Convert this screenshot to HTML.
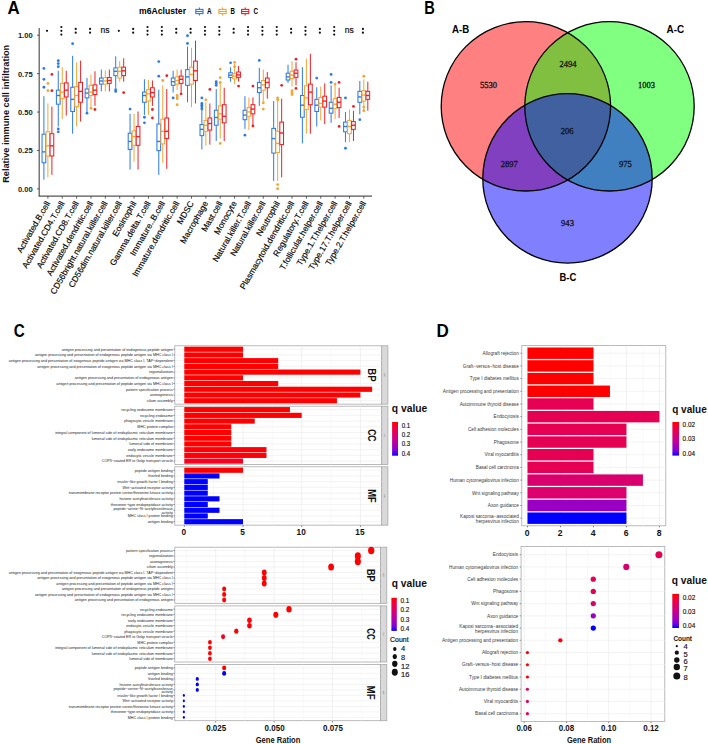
<!DOCTYPE html>
<html><head><meta charset="utf-8"><style>
html,body{margin:0;padding:0;background:#fff;width:708px;height:744px;overflow:hidden}
svg{display:block}
</style></head><body>
<svg width="708" height="744" viewBox="0 0 708 744" font-family='"Liberation Sans", sans-serif'>
<rect width="708" height="744" fill="#fff"/>
<text x="7.60" y="13.80" font-size="17.8" text-anchor="start" font-weight="bold" fill="#000" font-family='"Liberation Sans", sans-serif' textLength="12.2" lengthAdjust="spacingAndGlyphs">A</text>
<text x="139.00" y="14.40" font-size="9.5" text-anchor="start" font-weight="bold" fill="#000" font-family='"Liberation Sans", sans-serif' textLength="47" lengthAdjust="spacingAndGlyphs">m6Acluster</text>
<line x1="199.40" y1="7.40" x2="199.40" y2="15.60" stroke="#2b7ae8" stroke-width="1.1" />
<rect x="195.80" y="9.40" width="7.20" height="4.20" fill="#fff" stroke="#2b7ae8" stroke-width="1.1" />
<line x1="195.80" y1="11.50" x2="203.00" y2="11.50" stroke="#2b7ae8" stroke-width="1.1" />
<text x="207.00" y="14.00" font-size="9.5" text-anchor="start" font-weight="bold" fill="#000" font-family='"Liberation Sans", sans-serif' textLength="4.6" lengthAdjust="spacingAndGlyphs">A</text>
<line x1="222.50" y1="7.40" x2="222.50" y2="15.60" stroke="#f5a433" stroke-width="1.1" />
<rect x="218.90" y="9.40" width="7.20" height="4.20" fill="#fff" stroke="#f5a433" stroke-width="1.1" />
<line x1="218.90" y1="11.50" x2="226.10" y2="11.50" stroke="#f5a433" stroke-width="1.1" />
<text x="230.40" y="14.00" font-size="9.5" text-anchor="start" font-weight="bold" fill="#000" font-family='"Liberation Sans", sans-serif' textLength="4.4" lengthAdjust="spacingAndGlyphs">B</text>
<line x1="245.20" y1="7.40" x2="245.20" y2="15.60" stroke="#ea2028" stroke-width="1.1" />
<rect x="241.60" y="9.40" width="7.20" height="4.20" fill="#fff" stroke="#ea2028" stroke-width="1.1" />
<line x1="241.60" y1="11.50" x2="248.80" y2="11.50" stroke="#ea2028" stroke-width="1.1" />
<text x="253.50" y="14.00" font-size="9.5" text-anchor="start" font-weight="bold" fill="#000" font-family='"Liberation Sans", sans-serif' textLength="4.6" lengthAdjust="spacingAndGlyphs">C</text>
<line x1="39.20" y1="28.00" x2="39.20" y2="196.10" stroke="#555" stroke-width="1.2" />
<line x1="38.60" y1="196.10" x2="372.00" y2="196.10" stroke="#555" stroke-width="1.2" />
<line x1="37.00" y1="188.90" x2="39.20" y2="188.90" stroke="#4a4a4a" stroke-width="0.9" />
<text x="32.70" y="191.80" font-size="7.9" text-anchor="end" font-weight="bold" fill="#1a1a1a" font-family='"Liberation Sans", sans-serif' textLength="14.8" lengthAdjust="spacingAndGlyphs">0.00</text>
<line x1="37.00" y1="150.48" x2="39.20" y2="150.48" stroke="#4a4a4a" stroke-width="0.9" />
<text x="32.70" y="153.38" font-size="7.9" text-anchor="end" font-weight="bold" fill="#1a1a1a" font-family='"Liberation Sans", sans-serif' textLength="14.8" lengthAdjust="spacingAndGlyphs">0.25</text>
<line x1="37.00" y1="112.05" x2="39.20" y2="112.05" stroke="#4a4a4a" stroke-width="0.9" />
<text x="32.70" y="114.95" font-size="7.9" text-anchor="end" font-weight="bold" fill="#1a1a1a" font-family='"Liberation Sans", sans-serif' textLength="14.8" lengthAdjust="spacingAndGlyphs">0.50</text>
<line x1="37.00" y1="73.63" x2="39.20" y2="73.63" stroke="#4a4a4a" stroke-width="0.9" />
<text x="32.70" y="76.53" font-size="7.9" text-anchor="end" font-weight="bold" fill="#1a1a1a" font-family='"Liberation Sans", sans-serif' textLength="14.8" lengthAdjust="spacingAndGlyphs">0.75</text>
<line x1="37.00" y1="35.20" x2="39.20" y2="35.20" stroke="#4a4a4a" stroke-width="0.9" />
<text x="32.70" y="38.10" font-size="7.9" text-anchor="end" font-weight="bold" fill="#1a1a1a" font-family='"Liberation Sans", sans-serif' textLength="14.8" lengthAdjust="spacingAndGlyphs">1.00</text>
<text x="9.00" y="113.80" font-size="9.3" text-anchor="middle" font-weight="bold" fill="#111" font-family='"Liberation Sans", sans-serif' transform="rotate(-90 9.0 113.8)" textLength="138" lengthAdjust="spacingAndGlyphs">Relative immune cell infiltration</text>
<line x1="43.90" y1="96.22" x2="43.90" y2="134.20" stroke="#2b7ae8" stroke-width="1.0" />
<line x1="43.90" y1="162.75" x2="43.90" y2="179.69" stroke="#2b7ae8" stroke-width="1.0" />
<rect x="42.05" y="134.20" width="3.70" height="28.55" fill="#fff" stroke="#2b7ae8" stroke-width="1.05" />
<line x1="42.05" y1="151.87" x2="45.75" y2="151.87" stroke="#2b7ae8" stroke-width="1.4" />
<circle cx="43.90" cy="68.39" r="1.4" fill="#2b7ae8"/>
<circle cx="43.90" cy="79.28" r="1.4" fill="#2b7ae8"/>
<circle cx="43.90" cy="87.26" r="1.4" fill="#2b7ae8"/>
<line x1="47.90" y1="103.47" x2="47.90" y2="131.78" stroke="#f5a433" stroke-width="1.0" />
<line x1="47.90" y1="155.98" x2="47.90" y2="177.27" stroke="#f5a433" stroke-width="1.0" />
<rect x="46.05" y="131.78" width="3.70" height="24.20" fill="#fff" stroke="#f5a433" stroke-width="1.05" />
<line x1="46.05" y1="145.82" x2="49.75" y2="145.82" stroke="#f5a433" stroke-width="1.4" />
<circle cx="47.90" cy="83.39" r="1.4" fill="#f5a433"/>
<circle cx="47.90" cy="90.65" r="1.4" fill="#f5a433"/>
<line x1="51.90" y1="106.62" x2="51.90" y2="133.72" stroke="#ea2028" stroke-width="1.0" />
<line x1="51.90" y1="155.98" x2="51.90" y2="174.85" stroke="#ea2028" stroke-width="1.0" />
<rect x="50.05" y="133.72" width="3.70" height="22.26" fill="#fff" stroke="#ea2028" stroke-width="1.05" />
<line x1="50.05" y1="145.82" x2="53.75" y2="145.82" stroke="#ea2028" stroke-width="1.4" />
<circle cx="51.90" cy="74.44" r="1.4" fill="#ea2028"/>
<circle cx="51.90" cy="90.65" r="1.4" fill="#ea2028"/>
<line x1="47.90" y1="196.10" x2="47.90" y2="198.60" stroke="#4a4a4a" stroke-width="0.9" />
<text x="45.70" y="200.50" font-size="8.5" text-anchor="end" fill="#000" stroke="#000" stroke-width="0.15" font-family='"Liberation Sans", sans-serif' transform="rotate(-60 45.70 200.50)" dy="5.5">Activated.B.cell</text>
<circle cx="47.00" cy="30.80" r="1.1" fill="#111"/>
<line x1="58.26" y1="70.81" x2="58.26" y2="90.17" stroke="#2b7ae8" stroke-width="1.0" />
<line x1="58.26" y1="104.20" x2="58.26" y2="126.46" stroke="#2b7ae8" stroke-width="1.0" />
<rect x="56.41" y="90.17" width="3.70" height="14.03" fill="#fff" stroke="#2b7ae8" stroke-width="1.05" />
<line x1="56.41" y1="95.49" x2="60.11" y2="95.49" stroke="#2b7ae8" stroke-width="1.4" />
<circle cx="58.26" cy="60.65" r="1.4" fill="#2b7ae8"/>
<circle cx="58.26" cy="63.55" r="1.4" fill="#2b7ae8"/>
<circle cx="58.26" cy="66.70" r="1.4" fill="#2b7ae8"/>
<circle cx="58.26" cy="128.88" r="1.4" fill="#2b7ae8"/>
<circle cx="58.26" cy="131.78" r="1.4" fill="#2b7ae8"/>
<line x1="62.26" y1="67.18" x2="62.26" y2="83.39" stroke="#f5a433" stroke-width="1.0" />
<line x1="62.26" y1="98.64" x2="62.26" y2="119.20" stroke="#f5a433" stroke-width="1.0" />
<rect x="60.41" y="83.39" width="3.70" height="15.24" fill="#fff" stroke="#f5a433" stroke-width="1.05" />
<line x1="60.41" y1="92.10" x2="64.11" y2="92.10" stroke="#f5a433" stroke-width="1.4" />
<line x1="66.26" y1="70.81" x2="66.26" y2="82.91" stroke="#ea2028" stroke-width="1.0" />
<line x1="66.26" y1="96.94" x2="66.26" y2="115.57" stroke="#ea2028" stroke-width="1.0" />
<rect x="64.41" y="82.91" width="3.70" height="14.03" fill="#fff" stroke="#ea2028" stroke-width="1.05" />
<line x1="64.41" y1="90.17" x2="68.11" y2="90.17" stroke="#ea2028" stroke-width="1.4" />
<line x1="62.26" y1="196.10" x2="62.26" y2="198.60" stroke="#4a4a4a" stroke-width="0.9" />
<text x="60.06" y="200.50" font-size="8.5" text-anchor="end" fill="#000" stroke="#000" stroke-width="0.15" font-family='"Liberation Sans", sans-serif' transform="rotate(-60 60.06 200.50)" dy="5.5">Activated.CD4.T.cell</text>
<circle cx="61.36" cy="27.00" r="1.1" fill="#111"/>
<circle cx="61.36" cy="30.80" r="1.1" fill="#111"/>
<circle cx="61.36" cy="34.60" r="1.1" fill="#111"/>
<line x1="72.62" y1="55.81" x2="72.62" y2="87.26" stroke="#2b7ae8" stroke-width="1.0" />
<line x1="72.62" y1="111.46" x2="72.62" y2="133.72" stroke="#2b7ae8" stroke-width="1.0" />
<rect x="70.77" y="87.26" width="3.70" height="24.20" fill="#fff" stroke="#2b7ae8" stroke-width="1.05" />
<line x1="70.77" y1="99.36" x2="74.47" y2="99.36" stroke="#2b7ae8" stroke-width="1.4" />
<circle cx="72.62" cy="43.71" r="1.4" fill="#2b7ae8"/>
<line x1="76.62" y1="62.34" x2="76.62" y2="86.54" stroke="#f5a433" stroke-width="1.0" />
<line x1="76.62" y1="106.62" x2="76.62" y2="126.46" stroke="#f5a433" stroke-width="1.0" />
<rect x="74.77" y="86.54" width="3.70" height="20.08" fill="#fff" stroke="#f5a433" stroke-width="1.05" />
<line x1="74.77" y1="95.49" x2="78.47" y2="95.49" stroke="#f5a433" stroke-width="1.4" />
<line x1="80.62" y1="60.65" x2="80.62" y2="82.42" stroke="#ea2028" stroke-width="1.0" />
<line x1="80.62" y1="102.26" x2="80.62" y2="121.62" stroke="#ea2028" stroke-width="1.0" />
<rect x="78.77" y="82.42" width="3.70" height="19.84" fill="#fff" stroke="#ea2028" stroke-width="1.05" />
<line x1="78.77" y1="91.38" x2="82.47" y2="91.38" stroke="#ea2028" stroke-width="1.4" />
<line x1="76.62" y1="196.10" x2="76.62" y2="198.60" stroke="#4a4a4a" stroke-width="0.9" />
<text x="74.42" y="200.50" font-size="8.5" text-anchor="end" fill="#000" stroke="#000" stroke-width="0.15" font-family='"Liberation Sans", sans-serif' transform="rotate(-60 74.42 200.50)" dy="5.5">Activated.CD8.T.cell</text>
<circle cx="75.72" cy="28.90" r="1.1" fill="#111"/>
<circle cx="75.72" cy="32.70" r="1.1" fill="#111"/>
<line x1="86.98" y1="78.07" x2="86.98" y2="88.96" stroke="#2b7ae8" stroke-width="1.0" />
<line x1="86.98" y1="97.91" x2="86.98" y2="111.94" stroke="#2b7ae8" stroke-width="1.0" />
<rect x="85.13" y="88.96" width="3.70" height="8.95" fill="#fff" stroke="#2b7ae8" stroke-width="1.05" />
<line x1="85.13" y1="93.07" x2="88.83" y2="93.07" stroke="#2b7ae8" stroke-width="1.4" />
<circle cx="86.98" cy="113.15" r="1.4" fill="#2b7ae8"/>
<line x1="90.98" y1="74.44" x2="90.98" y2="85.33" stroke="#f5a433" stroke-width="1.0" />
<line x1="90.98" y1="95.49" x2="90.98" y2="107.59" stroke="#f5a433" stroke-width="1.0" />
<rect x="89.13" y="85.33" width="3.70" height="10.16" fill="#fff" stroke="#f5a433" stroke-width="1.05" />
<line x1="89.13" y1="92.10" x2="92.83" y2="92.10" stroke="#f5a433" stroke-width="1.4" />
<circle cx="90.98" cy="108.31" r="1.4" fill="#f5a433"/>
<line x1="94.98" y1="71.29" x2="94.98" y2="84.84" stroke="#ea2028" stroke-width="1.0" />
<line x1="94.98" y1="94.52" x2="94.98" y2="105.89" stroke="#ea2028" stroke-width="1.0" />
<rect x="93.13" y="84.84" width="3.70" height="9.68" fill="#fff" stroke="#ea2028" stroke-width="1.05" />
<line x1="93.13" y1="90.17" x2="96.83" y2="90.17" stroke="#ea2028" stroke-width="1.4" />
<circle cx="94.98" cy="109.52" r="1.4" fill="#ea2028"/>
<line x1="90.98" y1="196.10" x2="90.98" y2="198.60" stroke="#4a4a4a" stroke-width="0.9" />
<text x="88.78" y="200.50" font-size="8.5" text-anchor="end" fill="#000" stroke="#000" stroke-width="0.15" font-family='"Liberation Sans", sans-serif' transform="rotate(-60 88.78 200.50)" dy="5.5">Activated.dendritic.cell</text>
<circle cx="90.08" cy="28.90" r="1.1" fill="#111"/>
<circle cx="90.08" cy="32.70" r="1.1" fill="#111"/>
<line x1="101.34" y1="69.60" x2="101.34" y2="78.07" stroke="#2b7ae8" stroke-width="1.0" />
<line x1="101.34" y1="84.12" x2="101.34" y2="91.38" stroke="#2b7ae8" stroke-width="1.0" />
<rect x="99.49" y="78.07" width="3.70" height="6.05" fill="#fff" stroke="#2b7ae8" stroke-width="1.05" />
<line x1="99.49" y1="80.97" x2="103.19" y2="80.97" stroke="#2b7ae8" stroke-width="1.4" />
<line x1="105.34" y1="70.33" x2="105.34" y2="77.59" stroke="#f5a433" stroke-width="1.0" />
<line x1="105.34" y1="84.12" x2="105.34" y2="91.38" stroke="#f5a433" stroke-width="1.0" />
<rect x="103.49" y="77.59" width="3.70" height="6.53" fill="#fff" stroke="#f5a433" stroke-width="1.05" />
<line x1="103.49" y1="80.97" x2="107.19" y2="80.97" stroke="#f5a433" stroke-width="1.4" />
<line x1="109.34" y1="69.60" x2="109.34" y2="77.59" stroke="#ea2028" stroke-width="1.0" />
<line x1="109.34" y1="83.39" x2="109.34" y2="91.38" stroke="#ea2028" stroke-width="1.0" />
<rect x="107.49" y="77.59" width="3.70" height="5.81" fill="#fff" stroke="#ea2028" stroke-width="1.05" />
<line x1="107.49" y1="80.49" x2="111.19" y2="80.49" stroke="#ea2028" stroke-width="1.4" />
<line x1="105.34" y1="196.10" x2="105.34" y2="198.60" stroke="#4a4a4a" stroke-width="0.9" />
<text x="103.14" y="200.50" font-size="8.5" text-anchor="end" fill="#000" stroke="#000" stroke-width="0.15" font-family='"Liberation Sans", sans-serif' transform="rotate(-60 103.14 200.50)" dy="5.5">CD56bright.natural.killer.cell</text>
<text x="105.04" y="32.70" font-size="8.5" text-anchor="middle" font-weight="normal" fill="#111" font-family='"Liberation Sans", sans-serif' stroke="#111" stroke-width="0.2">ns</text>
<line x1="115.70" y1="56.29" x2="115.70" y2="67.91" stroke="#2b7ae8" stroke-width="1.0" />
<line x1="115.70" y1="75.65" x2="115.70" y2="87.75" stroke="#2b7ae8" stroke-width="1.0" />
<rect x="113.85" y="67.91" width="3.70" height="7.74" fill="#fff" stroke="#2b7ae8" stroke-width="1.05" />
<line x1="113.85" y1="71.29" x2="117.55" y2="71.29" stroke="#2b7ae8" stroke-width="1.4" />
<circle cx="115.70" cy="89.68" r="1.4" fill="#2b7ae8"/>
<circle cx="115.70" cy="91.38" r="1.4" fill="#2b7ae8"/>
<line x1="119.70" y1="61.13" x2="119.70" y2="67.18" stroke="#f5a433" stroke-width="1.0" />
<line x1="119.70" y1="78.07" x2="119.70" y2="81.70" stroke="#f5a433" stroke-width="1.0" />
<rect x="117.85" y="67.18" width="3.70" height="10.89" fill="#fff" stroke="#f5a433" stroke-width="1.05" />
<line x1="117.85" y1="71.29" x2="121.55" y2="71.29" stroke="#f5a433" stroke-width="1.4" />
<line x1="123.70" y1="58.23" x2="123.70" y2="67.18" stroke="#ea2028" stroke-width="1.0" />
<line x1="123.70" y1="75.65" x2="123.70" y2="81.70" stroke="#ea2028" stroke-width="1.0" />
<rect x="121.85" y="67.18" width="3.70" height="8.47" fill="#fff" stroke="#ea2028" stroke-width="1.05" />
<line x1="121.85" y1="70.81" x2="125.55" y2="70.81" stroke="#ea2028" stroke-width="1.4" />
<circle cx="123.70" cy="92.59" r="1.4" fill="#ea2028"/>
<line x1="119.70" y1="196.10" x2="119.70" y2="198.60" stroke="#4a4a4a" stroke-width="0.9" />
<text x="117.50" y="200.50" font-size="8.5" text-anchor="end" fill="#000" stroke="#000" stroke-width="0.15" font-family='"Liberation Sans", sans-serif' transform="rotate(-60 117.50 200.50)" dy="5.5">CD56dim.natural.killer.cell</text>
<circle cx="118.80" cy="30.80" r="1.1" fill="#111"/>
<line x1="130.06" y1="113.88" x2="130.06" y2="133.23" stroke="#2b7ae8" stroke-width="1.0" />
<line x1="130.06" y1="149.45" x2="130.06" y2="169.53" stroke="#2b7ae8" stroke-width="1.0" />
<rect x="128.21" y="133.23" width="3.70" height="16.21" fill="#fff" stroke="#2b7ae8" stroke-width="1.05" />
<line x1="128.21" y1="141.46" x2="131.91" y2="141.46" stroke="#2b7ae8" stroke-width="1.4" />
<circle cx="130.06" cy="109.04" r="1.4" fill="#2b7ae8"/>
<line x1="134.06" y1="113.88" x2="134.06" y2="130.82" stroke="#f5a433" stroke-width="1.0" />
<line x1="134.06" y1="145.33" x2="134.06" y2="161.54" stroke="#f5a433" stroke-width="1.0" />
<rect x="132.21" y="130.82" width="3.70" height="14.52" fill="#fff" stroke="#f5a433" stroke-width="1.05" />
<line x1="132.21" y1="136.62" x2="135.91" y2="136.62" stroke="#f5a433" stroke-width="1.4" />
<line x1="138.06" y1="111.46" x2="138.06" y2="126.46" stroke="#ea2028" stroke-width="1.0" />
<line x1="138.06" y1="145.33" x2="138.06" y2="169.53" stroke="#ea2028" stroke-width="1.0" />
<rect x="136.21" y="126.46" width="3.70" height="18.87" fill="#fff" stroke="#ea2028" stroke-width="1.05" />
<line x1="136.21" y1="136.62" x2="139.91" y2="136.62" stroke="#ea2028" stroke-width="1.4" />
<line x1="134.06" y1="196.10" x2="134.06" y2="198.60" stroke="#4a4a4a" stroke-width="0.9" />
<text x="131.86" y="200.50" font-size="8.5" text-anchor="end" fill="#000" stroke="#000" stroke-width="0.15" font-family='"Liberation Sans", sans-serif' transform="rotate(-60 131.86 200.50)" dy="5.5">Eosinophil</text>
<circle cx="133.16" cy="28.90" r="1.1" fill="#111"/>
<circle cx="133.16" cy="32.70" r="1.1" fill="#111"/>
<line x1="144.42" y1="79.28" x2="144.42" y2="92.10" stroke="#2b7ae8" stroke-width="1.0" />
<line x1="144.42" y1="102.26" x2="144.42" y2="114.85" stroke="#2b7ae8" stroke-width="1.0" />
<rect x="142.57" y="92.10" width="3.70" height="10.16" fill="#fff" stroke="#2b7ae8" stroke-width="1.05" />
<line x1="142.57" y1="95.49" x2="146.27" y2="95.49" stroke="#2b7ae8" stroke-width="1.4" />
<circle cx="144.42" cy="117.27" r="1.4" fill="#2b7ae8"/>
<circle cx="144.42" cy="122.83" r="1.4" fill="#2b7ae8"/>
<line x1="148.42" y1="80.00" x2="148.42" y2="89.68" stroke="#f5a433" stroke-width="1.0" />
<line x1="148.42" y1="101.05" x2="148.42" y2="114.85" stroke="#f5a433" stroke-width="1.0" />
<rect x="146.57" y="89.68" width="3.70" height="11.37" fill="#fff" stroke="#f5a433" stroke-width="1.05" />
<line x1="146.57" y1="93.80" x2="150.27" y2="93.80" stroke="#f5a433" stroke-width="1.4" />
<line x1="152.42" y1="80.49" x2="152.42" y2="87.75" stroke="#ea2028" stroke-width="1.0" />
<line x1="152.42" y1="96.94" x2="152.42" y2="105.89" stroke="#ea2028" stroke-width="1.0" />
<rect x="150.57" y="87.75" width="3.70" height="9.19" fill="#fff" stroke="#ea2028" stroke-width="1.05" />
<line x1="150.57" y1="92.59" x2="154.27" y2="92.59" stroke="#ea2028" stroke-width="1.4" />
<circle cx="152.42" cy="109.52" r="1.4" fill="#ea2028"/>
<circle cx="152.42" cy="117.99" r="1.4" fill="#ea2028"/>
<line x1="148.42" y1="196.10" x2="148.42" y2="198.60" stroke="#4a4a4a" stroke-width="0.9" />
<text x="146.22" y="200.50" font-size="8.5" text-anchor="end" fill="#000" stroke="#000" stroke-width="0.15" font-family='"Liberation Sans", sans-serif' transform="rotate(-60 146.22 200.50)" dy="5.5">Gamma.delta.T.cell</text>
<circle cx="147.52" cy="27.00" r="1.1" fill="#111"/>
<circle cx="147.52" cy="30.80" r="1.1" fill="#111"/>
<circle cx="147.52" cy="34.60" r="1.1" fill="#111"/>
<line x1="158.78" y1="89.68" x2="158.78" y2="124.04" stroke="#2b7ae8" stroke-width="1.0" />
<line x1="158.78" y1="150.66" x2="158.78" y2="174.85" stroke="#2b7ae8" stroke-width="1.0" />
<rect x="156.93" y="124.04" width="3.70" height="26.62" fill="#fff" stroke="#2b7ae8" stroke-width="1.05" />
<line x1="156.93" y1="141.46" x2="160.63" y2="141.46" stroke="#2b7ae8" stroke-width="1.4" />
<circle cx="158.78" cy="61.62" r="1.4" fill="#2b7ae8"/>
<circle cx="158.78" cy="76.13" r="1.4" fill="#2b7ae8"/>
<line x1="162.78" y1="85.33" x2="162.78" y2="119.20" stroke="#f5a433" stroke-width="1.0" />
<line x1="162.78" y1="143.88" x2="162.78" y2="162.75" stroke="#f5a433" stroke-width="1.0" />
<rect x="160.93" y="119.20" width="3.70" height="24.68" fill="#fff" stroke="#f5a433" stroke-width="1.05" />
<line x1="160.93" y1="131.30" x2="164.63" y2="131.30" stroke="#f5a433" stroke-width="1.4" />
<circle cx="162.78" cy="80.49" r="1.4" fill="#f5a433"/>
<line x1="166.78" y1="88.96" x2="166.78" y2="117.99" stroke="#ea2028" stroke-width="1.0" />
<line x1="166.78" y1="138.56" x2="166.78" y2="168.80" stroke="#ea2028" stroke-width="1.0" />
<rect x="164.93" y="117.99" width="3.70" height="20.57" fill="#fff" stroke="#ea2028" stroke-width="1.05" />
<line x1="164.93" y1="131.30" x2="168.63" y2="131.30" stroke="#ea2028" stroke-width="1.4" />
<circle cx="166.78" cy="75.65" r="1.4" fill="#ea2028"/>
<line x1="162.78" y1="196.10" x2="162.78" y2="198.60" stroke="#4a4a4a" stroke-width="0.9" />
<text x="160.58" y="200.50" font-size="8.5" text-anchor="end" fill="#000" stroke="#000" stroke-width="0.15" font-family='"Liberation Sans", sans-serif' transform="rotate(-60 160.58 200.50)" dy="5.5">Immature..B.cell</text>
<circle cx="161.88" cy="27.00" r="1.1" fill="#111"/>
<circle cx="161.88" cy="30.80" r="1.1" fill="#111"/>
<circle cx="161.88" cy="34.60" r="1.1" fill="#111"/>
<line x1="173.14" y1="70.81" x2="173.14" y2="78.07" stroke="#2b7ae8" stroke-width="1.0" />
<line x1="173.14" y1="85.33" x2="173.14" y2="92.59" stroke="#2b7ae8" stroke-width="1.0" />
<rect x="171.29" y="78.07" width="3.70" height="7.26" fill="#fff" stroke="#2b7ae8" stroke-width="1.05" />
<line x1="171.29" y1="81.70" x2="174.99" y2="81.70" stroke="#2b7ae8" stroke-width="1.4" />
<circle cx="173.14" cy="97.91" r="1.4" fill="#2b7ae8"/>
<line x1="177.14" y1="69.60" x2="177.14" y2="76.86" stroke="#f5a433" stroke-width="1.0" />
<line x1="177.14" y1="84.12" x2="177.14" y2="90.17" stroke="#f5a433" stroke-width="1.0" />
<rect x="175.29" y="76.86" width="3.70" height="7.26" fill="#fff" stroke="#f5a433" stroke-width="1.05" />
<line x1="175.29" y1="80.49" x2="178.99" y2="80.49" stroke="#f5a433" stroke-width="1.4" />
<circle cx="177.14" cy="95.49" r="1.4" fill="#f5a433"/>
<circle cx="177.14" cy="96.94" r="1.4" fill="#f5a433"/>
<circle cx="177.14" cy="98.64" r="1.4" fill="#f5a433"/>
<circle cx="177.14" cy="104.68" r="1.4" fill="#f5a433"/>
<line x1="181.14" y1="69.60" x2="181.14" y2="76.13" stroke="#ea2028" stroke-width="1.0" />
<line x1="181.14" y1="83.39" x2="181.14" y2="92.59" stroke="#ea2028" stroke-width="1.0" />
<rect x="179.29" y="76.13" width="3.70" height="7.26" fill="#fff" stroke="#ea2028" stroke-width="1.05" />
<line x1="179.29" y1="79.28" x2="182.99" y2="79.28" stroke="#ea2028" stroke-width="1.4" />
<circle cx="181.14" cy="93.80" r="1.4" fill="#ea2028"/>
<line x1="177.14" y1="196.10" x2="177.14" y2="198.60" stroke="#4a4a4a" stroke-width="0.9" />
<text x="174.94" y="200.50" font-size="8.5" text-anchor="end" fill="#000" stroke="#000" stroke-width="0.15" font-family='"Liberation Sans", sans-serif' transform="rotate(-60 174.94 200.50)" dy="5.5">Immature.dendritic.cell</text>
<circle cx="176.24" cy="28.90" r="1.1" fill="#111"/>
<circle cx="176.24" cy="32.70" r="1.1" fill="#111"/>
<line x1="187.50" y1="46.62" x2="187.50" y2="69.60" stroke="#2b7ae8" stroke-width="1.0" />
<line x1="187.50" y1="85.33" x2="187.50" y2="102.26" stroke="#2b7ae8" stroke-width="1.0" />
<rect x="185.65" y="69.60" width="3.70" height="15.73" fill="#fff" stroke="#2b7ae8" stroke-width="1.05" />
<line x1="185.65" y1="76.86" x2="189.35" y2="76.86" stroke="#2b7ae8" stroke-width="1.4" />
<circle cx="187.50" cy="35.73" r="1.4" fill="#2b7ae8"/>
<circle cx="187.50" cy="43.47" r="1.4" fill="#2b7ae8"/>
<line x1="191.50" y1="47.82" x2="191.50" y2="67.18" stroke="#f5a433" stroke-width="1.0" />
<line x1="191.50" y1="84.12" x2="191.50" y2="107.10" stroke="#f5a433" stroke-width="1.0" />
<rect x="189.65" y="67.18" width="3.70" height="16.94" fill="#fff" stroke="#f5a433" stroke-width="1.05" />
<line x1="189.65" y1="74.44" x2="193.35" y2="74.44" stroke="#f5a433" stroke-width="1.4" />
<line x1="195.50" y1="40.57" x2="195.50" y2="61.13" stroke="#ea2028" stroke-width="1.0" />
<line x1="195.50" y1="80.49" x2="195.50" y2="103.47" stroke="#ea2028" stroke-width="1.0" />
<rect x="193.65" y="61.13" width="3.70" height="19.36" fill="#fff" stroke="#ea2028" stroke-width="1.05" />
<line x1="193.65" y1="70.81" x2="197.35" y2="70.81" stroke="#ea2028" stroke-width="1.4" />
<line x1="191.50" y1="196.10" x2="191.50" y2="198.60" stroke="#4a4a4a" stroke-width="0.9" />
<text x="189.30" y="200.50" font-size="8.5" text-anchor="end" fill="#000" stroke="#000" stroke-width="0.15" font-family='"Liberation Sans", sans-serif' transform="rotate(-60 189.30 200.50)" dy="5.5">MDSC</text>
<circle cx="190.60" cy="28.90" r="1.1" fill="#111"/>
<circle cx="190.60" cy="32.70" r="1.1" fill="#111"/>
<line x1="201.86" y1="104.68" x2="201.86" y2="124.52" stroke="#2b7ae8" stroke-width="1.0" />
<line x1="201.86" y1="135.65" x2="201.86" y2="149.45" stroke="#2b7ae8" stroke-width="1.0" />
<rect x="200.01" y="124.52" width="3.70" height="11.13" fill="#fff" stroke="#2b7ae8" stroke-width="1.05" />
<line x1="200.01" y1="129.36" x2="203.71" y2="129.36" stroke="#2b7ae8" stroke-width="1.4" />
<circle cx="201.86" cy="97.91" r="1.4" fill="#2b7ae8"/>
<circle cx="201.86" cy="103.47" r="1.4" fill="#2b7ae8"/>
<circle cx="201.86" cy="105.17" r="1.4" fill="#2b7ae8"/>
<circle cx="201.86" cy="107.10" r="1.4" fill="#2b7ae8"/>
<circle cx="201.86" cy="109.04" r="1.4" fill="#2b7ae8"/>
<line x1="205.86" y1="102.26" x2="205.86" y2="120.41" stroke="#f5a433" stroke-width="1.0" />
<line x1="205.86" y1="131.30" x2="205.86" y2="145.82" stroke="#f5a433" stroke-width="1.0" />
<rect x="204.01" y="120.41" width="3.70" height="10.89" fill="#fff" stroke="#f5a433" stroke-width="1.05" />
<line x1="204.01" y1="125.25" x2="207.71" y2="125.25" stroke="#f5a433" stroke-width="1.4" />
<circle cx="205.86" cy="99.85" r="1.4" fill="#f5a433"/>
<line x1="209.86" y1="103.47" x2="209.86" y2="117.99" stroke="#ea2028" stroke-width="1.0" />
<line x1="209.86" y1="130.09" x2="209.86" y2="144.61" stroke="#ea2028" stroke-width="1.0" />
<rect x="208.01" y="117.99" width="3.70" height="12.10" fill="#fff" stroke="#ea2028" stroke-width="1.05" />
<line x1="208.01" y1="123.56" x2="211.71" y2="123.56" stroke="#ea2028" stroke-width="1.4" />
<circle cx="209.86" cy="89.44" r="1.4" fill="#ea2028"/>
<line x1="205.86" y1="196.10" x2="205.86" y2="198.60" stroke="#4a4a4a" stroke-width="0.9" />
<text x="203.66" y="200.50" font-size="8.5" text-anchor="end" fill="#000" stroke="#000" stroke-width="0.15" font-family='"Liberation Sans", sans-serif' transform="rotate(-60 203.66 200.50)" dy="5.5">Macrophage</text>
<circle cx="204.96" cy="27.00" r="1.1" fill="#111"/>
<circle cx="204.96" cy="30.80" r="1.1" fill="#111"/>
<circle cx="204.96" cy="34.60" r="1.1" fill="#111"/>
<line x1="216.22" y1="88.96" x2="216.22" y2="110.25" stroke="#2b7ae8" stroke-width="1.0" />
<line x1="216.22" y1="125.25" x2="216.22" y2="140.98" stroke="#2b7ae8" stroke-width="1.0" />
<rect x="214.37" y="110.25" width="3.70" height="15.00" fill="#fff" stroke="#2b7ae8" stroke-width="1.05" />
<line x1="214.37" y1="117.51" x2="218.07" y2="117.51" stroke="#2b7ae8" stroke-width="1.4" />
<circle cx="216.22" cy="81.70" r="1.4" fill="#2b7ae8"/>
<circle cx="216.22" cy="83.39" r="1.4" fill="#2b7ae8"/>
<circle cx="216.22" cy="85.33" r="1.4" fill="#2b7ae8"/>
<line x1="220.22" y1="82.91" x2="220.22" y2="105.89" stroke="#f5a433" stroke-width="1.0" />
<line x1="220.22" y1="119.20" x2="220.22" y2="138.56" stroke="#f5a433" stroke-width="1.0" />
<rect x="218.37" y="105.89" width="3.70" height="13.31" fill="#fff" stroke="#f5a433" stroke-width="1.05" />
<line x1="218.37" y1="113.88" x2="222.07" y2="113.88" stroke="#f5a433" stroke-width="1.4" />
<circle cx="220.22" cy="69.12" r="1.4" fill="#f5a433"/>
<circle cx="220.22" cy="77.59" r="1.4" fill="#f5a433"/>
<circle cx="220.22" cy="82.42" r="1.4" fill="#f5a433"/>
<circle cx="220.22" cy="143.40" r="1.4" fill="#f5a433"/>
<line x1="224.22" y1="87.75" x2="224.22" y2="104.68" stroke="#ea2028" stroke-width="1.0" />
<line x1="224.22" y1="122.83" x2="224.22" y2="140.98" stroke="#ea2028" stroke-width="1.0" />
<rect x="222.37" y="104.68" width="3.70" height="18.15" fill="#fff" stroke="#ea2028" stroke-width="1.05" />
<line x1="222.37" y1="116.30" x2="226.07" y2="116.30" stroke="#ea2028" stroke-width="1.4" />
<line x1="220.22" y1="196.10" x2="220.22" y2="198.60" stroke="#4a4a4a" stroke-width="0.9" />
<text x="218.02" y="200.50" font-size="8.5" text-anchor="end" fill="#000" stroke="#000" stroke-width="0.15" font-family='"Liberation Sans", sans-serif' transform="rotate(-60 218.02 200.50)" dy="5.5">Mast.cell</text>
<circle cx="219.32" cy="27.00" r="1.1" fill="#111"/>
<circle cx="219.32" cy="30.80" r="1.1" fill="#111"/>
<circle cx="219.32" cy="34.60" r="1.1" fill="#111"/>
<line x1="230.58" y1="67.18" x2="230.58" y2="72.75" stroke="#2b7ae8" stroke-width="1.0" />
<line x1="230.58" y1="77.59" x2="230.58" y2="81.70" stroke="#2b7ae8" stroke-width="1.0" />
<rect x="228.73" y="72.75" width="3.70" height="4.84" fill="#fff" stroke="#2b7ae8" stroke-width="1.05" />
<line x1="228.73" y1="75.17" x2="232.43" y2="75.17" stroke="#2b7ae8" stroke-width="1.4" />
<circle cx="230.58" cy="62.83" r="1.4" fill="#2b7ae8"/>
<line x1="234.58" y1="63.55" x2="234.58" y2="73.71" stroke="#f5a433" stroke-width="1.0" />
<line x1="234.58" y1="78.80" x2="234.58" y2="84.12" stroke="#f5a433" stroke-width="1.0" />
<rect x="232.73" y="73.71" width="3.70" height="5.08" fill="#fff" stroke="#f5a433" stroke-width="1.05" />
<line x1="232.73" y1="76.13" x2="236.43" y2="76.13" stroke="#f5a433" stroke-width="1.4" />
<circle cx="234.58" cy="62.34" r="1.4" fill="#f5a433"/>
<circle cx="234.58" cy="66.70" r="1.4" fill="#f5a433"/>
<line x1="238.58" y1="65.97" x2="238.58" y2="72.02" stroke="#ea2028" stroke-width="1.0" />
<line x1="238.58" y1="77.34" x2="238.58" y2="81.70" stroke="#ea2028" stroke-width="1.0" />
<rect x="236.73" y="72.02" width="3.70" height="5.32" fill="#fff" stroke="#ea2028" stroke-width="1.05" />
<line x1="236.73" y1="74.92" x2="240.43" y2="74.92" stroke="#ea2028" stroke-width="1.4" />
<circle cx="238.58" cy="86.05" r="1.4" fill="#ea2028"/>
<line x1="234.58" y1="196.10" x2="234.58" y2="198.60" stroke="#4a4a4a" stroke-width="0.9" />
<text x="232.38" y="200.50" font-size="8.5" text-anchor="end" fill="#000" stroke="#000" stroke-width="0.15" font-family='"Liberation Sans", sans-serif' transform="rotate(-60 232.38 200.50)" dy="5.5">Monocyte</text>
<circle cx="233.68" cy="28.90" r="1.1" fill="#111"/>
<circle cx="233.68" cy="32.70" r="1.1" fill="#111"/>
<line x1="244.94" y1="96.22" x2="244.94" y2="110.25" stroke="#2b7ae8" stroke-width="1.0" />
<line x1="244.94" y1="119.69" x2="244.94" y2="128.88" stroke="#2b7ae8" stroke-width="1.0" />
<rect x="243.09" y="110.25" width="3.70" height="9.44" fill="#fff" stroke="#2b7ae8" stroke-width="1.05" />
<line x1="243.09" y1="115.09" x2="246.79" y2="115.09" stroke="#2b7ae8" stroke-width="1.4" />
<circle cx="244.94" cy="135.17" r="1.4" fill="#2b7ae8"/>
<line x1="248.94" y1="97.43" x2="248.94" y2="107.59" stroke="#f5a433" stroke-width="1.0" />
<line x1="248.94" y1="116.30" x2="248.94" y2="130.09" stroke="#f5a433" stroke-width="1.0" />
<rect x="247.09" y="107.59" width="3.70" height="8.71" fill="#fff" stroke="#f5a433" stroke-width="1.05" />
<line x1="247.09" y1="111.94" x2="250.79" y2="111.94" stroke="#f5a433" stroke-width="1.4" />
<line x1="252.94" y1="97.43" x2="252.94" y2="104.68" stroke="#ea2028" stroke-width="1.0" />
<line x1="252.94" y1="113.88" x2="252.94" y2="126.46" stroke="#ea2028" stroke-width="1.0" />
<rect x="251.09" y="104.68" width="3.70" height="9.19" fill="#fff" stroke="#ea2028" stroke-width="1.05" />
<line x1="251.09" y1="109.04" x2="254.79" y2="109.04" stroke="#ea2028" stroke-width="1.4" />
<circle cx="252.94" cy="86.05" r="1.4" fill="#ea2028"/>
<circle cx="252.94" cy="125.98" r="1.4" fill="#ea2028"/>
<line x1="248.94" y1="196.10" x2="248.94" y2="198.60" stroke="#4a4a4a" stroke-width="0.9" />
<text x="246.74" y="200.50" font-size="8.5" text-anchor="end" fill="#000" stroke="#000" stroke-width="0.15" font-family='"Liberation Sans", sans-serif' transform="rotate(-60 246.74 200.50)" dy="5.5">Natural.killer.T.cell</text>
<circle cx="248.04" cy="27.00" r="1.1" fill="#111"/>
<circle cx="248.04" cy="30.80" r="1.1" fill="#111"/>
<circle cx="248.04" cy="34.60" r="1.1" fill="#111"/>
<line x1="259.30" y1="67.91" x2="259.30" y2="82.42" stroke="#2b7ae8" stroke-width="1.0" />
<line x1="259.30" y1="92.59" x2="259.30" y2="105.89" stroke="#2b7ae8" stroke-width="1.0" />
<rect x="257.45" y="82.42" width="3.70" height="10.16" fill="#fff" stroke="#2b7ae8" stroke-width="1.05" />
<line x1="257.45" y1="87.75" x2="261.15" y2="87.75" stroke="#2b7ae8" stroke-width="1.4" />
<circle cx="259.30" cy="60.41" r="1.4" fill="#2b7ae8"/>
<line x1="263.30" y1="69.60" x2="263.30" y2="80.49" stroke="#f5a433" stroke-width="1.0" />
<line x1="263.30" y1="90.17" x2="263.30" y2="101.05" stroke="#f5a433" stroke-width="1.0" />
<rect x="261.45" y="80.49" width="3.70" height="9.68" fill="#fff" stroke="#f5a433" stroke-width="1.05" />
<line x1="261.45" y1="84.84" x2="265.15" y2="84.84" stroke="#f5a433" stroke-width="1.4" />
<circle cx="263.30" cy="102.75" r="1.4" fill="#f5a433"/>
<circle cx="263.30" cy="109.04" r="1.4" fill="#f5a433"/>
<line x1="267.30" y1="72.02" x2="267.30" y2="78.07" stroke="#ea2028" stroke-width="1.0" />
<line x1="267.30" y1="87.75" x2="267.30" y2="98.64" stroke="#ea2028" stroke-width="1.0" />
<rect x="265.45" y="78.07" width="3.70" height="9.68" fill="#fff" stroke="#ea2028" stroke-width="1.05" />
<line x1="265.45" y1="82.42" x2="269.15" y2="82.42" stroke="#ea2028" stroke-width="1.4" />
<line x1="263.30" y1="196.10" x2="263.30" y2="198.60" stroke="#4a4a4a" stroke-width="0.9" />
<text x="261.10" y="200.50" font-size="8.5" text-anchor="end" fill="#000" stroke="#000" stroke-width="0.15" font-family='"Liberation Sans", sans-serif' transform="rotate(-60 261.10 200.50)" dy="5.5">Natural.killer.cell</text>
<circle cx="262.40" cy="27.00" r="1.1" fill="#111"/>
<circle cx="262.40" cy="30.80" r="1.1" fill="#111"/>
<circle cx="262.40" cy="34.60" r="1.1" fill="#111"/>
<line x1="273.66" y1="101.05" x2="273.66" y2="128.40" stroke="#2b7ae8" stroke-width="1.0" />
<line x1="273.66" y1="153.08" x2="273.66" y2="180.90" stroke="#2b7ae8" stroke-width="1.0" />
<rect x="271.81" y="128.40" width="3.70" height="24.68" fill="#fff" stroke="#2b7ae8" stroke-width="1.05" />
<line x1="271.81" y1="138.56" x2="275.51" y2="138.56" stroke="#2b7ae8" stroke-width="1.4" />
<line x1="277.66" y1="97.43" x2="277.66" y2="131.30" stroke="#f5a433" stroke-width="1.0" />
<line x1="277.66" y1="152.59" x2="277.66" y2="180.90" stroke="#f5a433" stroke-width="1.0" />
<rect x="275.81" y="131.30" width="3.70" height="21.29" fill="#fff" stroke="#f5a433" stroke-width="1.05" />
<line x1="275.81" y1="143.40" x2="279.51" y2="143.40" stroke="#f5a433" stroke-width="1.4" />
<circle cx="277.66" cy="97.91" r="1.4" fill="#f5a433"/>
<circle cx="277.66" cy="99.85" r="1.4" fill="#f5a433"/>
<circle cx="277.66" cy="184.53" r="1.4" fill="#f5a433"/>
<circle cx="277.66" cy="188.64" r="1.4" fill="#f5a433"/>
<line x1="281.66" y1="98.64" x2="281.66" y2="122.11" stroke="#ea2028" stroke-width="1.0" />
<line x1="281.66" y1="144.61" x2="281.66" y2="177.27" stroke="#ea2028" stroke-width="1.0" />
<rect x="279.81" y="122.11" width="3.70" height="22.50" fill="#fff" stroke="#ea2028" stroke-width="1.05" />
<line x1="279.81" y1="132.99" x2="283.51" y2="132.99" stroke="#ea2028" stroke-width="1.4" />
<circle cx="281.66" cy="85.33" r="1.4" fill="#ea2028"/>
<line x1="277.66" y1="196.10" x2="277.66" y2="198.60" stroke="#4a4a4a" stroke-width="0.9" />
<text x="275.46" y="200.50" font-size="8.5" text-anchor="end" fill="#000" stroke="#000" stroke-width="0.15" font-family='"Liberation Sans", sans-serif' transform="rotate(-60 275.46 200.50)" dy="5.5">Neutrophil</text>
<circle cx="276.76" cy="27.00" r="1.1" fill="#111"/>
<circle cx="276.76" cy="30.80" r="1.1" fill="#111"/>
<circle cx="276.76" cy="34.60" r="1.1" fill="#111"/>
<line x1="288.02" y1="64.76" x2="288.02" y2="73.23" stroke="#2b7ae8" stroke-width="1.0" />
<line x1="288.02" y1="80.00" x2="288.02" y2="82.91" stroke="#2b7ae8" stroke-width="1.0" />
<rect x="286.17" y="73.23" width="3.70" height="6.77" fill="#fff" stroke="#2b7ae8" stroke-width="1.05" />
<line x1="286.17" y1="76.86" x2="289.87" y2="76.86" stroke="#2b7ae8" stroke-width="1.4" />
<line x1="292.02" y1="61.13" x2="292.02" y2="71.29" stroke="#f5a433" stroke-width="1.0" />
<line x1="292.02" y1="78.55" x2="292.02" y2="86.54" stroke="#f5a433" stroke-width="1.0" />
<rect x="290.17" y="71.29" width="3.70" height="7.26" fill="#fff" stroke="#f5a433" stroke-width="1.05" />
<line x1="290.17" y1="75.17" x2="293.87" y2="75.17" stroke="#f5a433" stroke-width="1.4" />
<circle cx="292.02" cy="90.65" r="1.4" fill="#f5a433"/>
<circle cx="292.02" cy="92.59" r="1.4" fill="#f5a433"/>
<circle cx="292.02" cy="94.52" r="1.4" fill="#f5a433"/>
<line x1="296.02" y1="62.34" x2="296.02" y2="70.08" stroke="#ea2028" stroke-width="1.0" />
<line x1="296.02" y1="77.34" x2="296.02" y2="85.33" stroke="#ea2028" stroke-width="1.0" />
<rect x="294.17" y="70.08" width="3.70" height="7.26" fill="#fff" stroke="#ea2028" stroke-width="1.05" />
<line x1="294.17" y1="73.23" x2="297.87" y2="73.23" stroke="#ea2028" stroke-width="1.4" />
<circle cx="296.02" cy="59.20" r="1.4" fill="#ea2028"/>
<circle cx="296.02" cy="88.47" r="1.4" fill="#ea2028"/>
<line x1="292.02" y1="196.10" x2="292.02" y2="198.60" stroke="#4a4a4a" stroke-width="0.9" />
<text x="289.82" y="200.50" font-size="8.5" text-anchor="end" fill="#000" stroke="#000" stroke-width="0.15" font-family='"Liberation Sans", sans-serif' transform="rotate(-60 289.82 200.50)" dy="5.5">Plasmacytoid.dendritic.cell</text>
<circle cx="291.12" cy="28.90" r="1.1" fill="#111"/>
<circle cx="291.12" cy="32.70" r="1.1" fill="#111"/>
<line x1="302.38" y1="67.18" x2="302.38" y2="95.49" stroke="#2b7ae8" stroke-width="1.0" />
<line x1="302.38" y1="117.27" x2="302.38" y2="143.40" stroke="#2b7ae8" stroke-width="1.0" />
<rect x="300.53" y="95.49" width="3.70" height="21.78" fill="#fff" stroke="#2b7ae8" stroke-width="1.05" />
<line x1="300.53" y1="105.17" x2="304.23" y2="105.17" stroke="#2b7ae8" stroke-width="1.4" />
<line x1="306.38" y1="58.71" x2="306.38" y2="85.81" stroke="#f5a433" stroke-width="1.0" />
<line x1="306.38" y1="109.52" x2="306.38" y2="133.72" stroke="#f5a433" stroke-width="1.0" />
<rect x="304.53" y="85.81" width="3.70" height="23.71" fill="#fff" stroke="#f5a433" stroke-width="1.05" />
<line x1="304.53" y1="97.91" x2="308.23" y2="97.91" stroke="#f5a433" stroke-width="1.4" />
<line x1="310.38" y1="53.87" x2="310.38" y2="84.12" stroke="#ea2028" stroke-width="1.0" />
<line x1="310.38" y1="104.68" x2="310.38" y2="133.72" stroke="#ea2028" stroke-width="1.0" />
<rect x="308.53" y="84.12" width="3.70" height="20.57" fill="#fff" stroke="#ea2028" stroke-width="1.05" />
<line x1="308.53" y1="92.10" x2="312.23" y2="92.10" stroke="#ea2028" stroke-width="1.4" />
<line x1="306.38" y1="196.10" x2="306.38" y2="198.60" stroke="#4a4a4a" stroke-width="0.9" />
<text x="304.18" y="200.50" font-size="8.5" text-anchor="end" fill="#000" stroke="#000" stroke-width="0.15" font-family='"Liberation Sans", sans-serif' transform="rotate(-60 304.18 200.50)" dy="5.5">Regulatory.T.cell</text>
<circle cx="305.48" cy="27.00" r="1.1" fill="#111"/>
<circle cx="305.48" cy="30.80" r="1.1" fill="#111"/>
<circle cx="305.48" cy="34.60" r="1.1" fill="#111"/>
<line x1="316.74" y1="87.26" x2="316.74" y2="99.36" stroke="#2b7ae8" stroke-width="1.0" />
<line x1="316.74" y1="111.46" x2="316.74" y2="126.46" stroke="#2b7ae8" stroke-width="1.0" />
<rect x="314.89" y="99.36" width="3.70" height="12.10" fill="#fff" stroke="#2b7ae8" stroke-width="1.05" />
<line x1="314.89" y1="105.17" x2="318.59" y2="105.17" stroke="#2b7ae8" stroke-width="1.4" />
<circle cx="316.74" cy="78.07" r="1.4" fill="#2b7ae8"/>
<line x1="320.74" y1="86.54" x2="320.74" y2="97.43" stroke="#f5a433" stroke-width="1.0" />
<line x1="320.74" y1="107.10" x2="320.74" y2="120.41" stroke="#f5a433" stroke-width="1.0" />
<rect x="318.89" y="97.43" width="3.70" height="9.68" fill="#fff" stroke="#f5a433" stroke-width="1.05" />
<line x1="318.89" y1="103.47" x2="322.59" y2="103.47" stroke="#f5a433" stroke-width="1.4" />
<line x1="324.74" y1="83.39" x2="324.74" y2="96.22" stroke="#ea2028" stroke-width="1.0" />
<line x1="324.74" y1="107.10" x2="324.74" y2="124.04" stroke="#ea2028" stroke-width="1.0" />
<rect x="322.89" y="96.22" width="3.70" height="10.89" fill="#fff" stroke="#ea2028" stroke-width="1.05" />
<line x1="322.89" y1="101.05" x2="326.59" y2="101.05" stroke="#ea2028" stroke-width="1.4" />
<line x1="320.74" y1="196.10" x2="320.74" y2="198.60" stroke="#4a4a4a" stroke-width="0.9" />
<text x="318.54" y="200.50" font-size="8.5" text-anchor="end" fill="#000" stroke="#000" stroke-width="0.15" font-family='"Liberation Sans", sans-serif' transform="rotate(-60 318.54 200.50)" dy="5.5">T.follicular.helper.cell</text>
<circle cx="319.84" cy="28.90" r="1.1" fill="#111"/>
<circle cx="319.84" cy="32.70" r="1.1" fill="#111"/>
<line x1="331.10" y1="85.33" x2="331.10" y2="102.26" stroke="#2b7ae8" stroke-width="1.0" />
<line x1="331.10" y1="113.15" x2="331.10" y2="122.83" stroke="#2b7ae8" stroke-width="1.0" />
<rect x="329.25" y="102.26" width="3.70" height="10.89" fill="#fff" stroke="#2b7ae8" stroke-width="1.05" />
<line x1="329.25" y1="108.31" x2="332.95" y2="108.31" stroke="#2b7ae8" stroke-width="1.4" />
<circle cx="331.10" cy="74.44" r="1.4" fill="#2b7ae8"/>
<circle cx="331.10" cy="82.42" r="1.4" fill="#2b7ae8"/>
<line x1="335.10" y1="84.12" x2="335.10" y2="98.64" stroke="#f5a433" stroke-width="1.0" />
<line x1="335.10" y1="108.31" x2="335.10" y2="119.20" stroke="#f5a433" stroke-width="1.0" />
<rect x="333.25" y="98.64" width="3.70" height="9.68" fill="#fff" stroke="#f5a433" stroke-width="1.05" />
<line x1="333.25" y1="104.20" x2="336.95" y2="104.20" stroke="#f5a433" stroke-width="1.4" />
<circle cx="335.10" cy="84.12" r="1.4" fill="#f5a433"/>
<line x1="339.10" y1="87.75" x2="339.10" y2="97.43" stroke="#ea2028" stroke-width="1.0" />
<line x1="339.10" y1="107.59" x2="339.10" y2="117.99" stroke="#ea2028" stroke-width="1.0" />
<rect x="337.25" y="97.43" width="3.70" height="10.16" fill="#fff" stroke="#ea2028" stroke-width="1.05" />
<line x1="337.25" y1="102.26" x2="340.95" y2="102.26" stroke="#ea2028" stroke-width="1.4" />
<circle cx="339.10" cy="82.42" r="1.4" fill="#ea2028"/>
<circle cx="339.10" cy="126.46" r="1.4" fill="#ea2028"/>
<line x1="335.10" y1="196.10" x2="335.10" y2="198.60" stroke="#4a4a4a" stroke-width="0.9" />
<text x="332.90" y="200.50" font-size="8.5" text-anchor="end" fill="#000" stroke="#000" stroke-width="0.15" font-family='"Liberation Sans", sans-serif' transform="rotate(-60 332.90 200.50)" dy="5.5">Type.1.T.helper.cell</text>
<circle cx="334.20" cy="27.00" r="1.1" fill="#111"/>
<circle cx="334.20" cy="30.80" r="1.1" fill="#111"/>
<circle cx="334.20" cy="34.60" r="1.1" fill="#111"/>
<line x1="345.46" y1="111.94" x2="345.46" y2="122.11" stroke="#2b7ae8" stroke-width="1.0" />
<line x1="345.46" y1="131.78" x2="345.46" y2="142.19" stroke="#2b7ae8" stroke-width="1.0" />
<rect x="343.61" y="122.11" width="3.70" height="9.68" fill="#fff" stroke="#2b7ae8" stroke-width="1.05" />
<line x1="343.61" y1="126.46" x2="347.31" y2="126.46" stroke="#2b7ae8" stroke-width="1.4" />
<circle cx="345.46" cy="97.91" r="1.4" fill="#2b7ae8"/>
<circle cx="345.46" cy="148.24" r="1.4" fill="#2b7ae8"/>
<line x1="349.46" y1="109.52" x2="349.46" y2="120.41" stroke="#f5a433" stroke-width="1.0" />
<line x1="349.46" y1="133.72" x2="349.46" y2="142.19" stroke="#f5a433" stroke-width="1.0" />
<rect x="347.61" y="120.41" width="3.70" height="13.31" fill="#fff" stroke="#f5a433" stroke-width="1.05" />
<line x1="347.61" y1="126.46" x2="351.31" y2="126.46" stroke="#f5a433" stroke-width="1.4" />
<line x1="353.46" y1="110.73" x2="353.46" y2="121.62" stroke="#ea2028" stroke-width="1.0" />
<line x1="353.46" y1="129.36" x2="353.46" y2="140.98" stroke="#ea2028" stroke-width="1.0" />
<rect x="351.61" y="121.62" width="3.70" height="7.74" fill="#fff" stroke="#ea2028" stroke-width="1.05" />
<line x1="351.61" y1="125.25" x2="355.31" y2="125.25" stroke="#ea2028" stroke-width="1.4" />
<circle cx="353.46" cy="106.38" r="1.4" fill="#ea2028"/>
<line x1="349.46" y1="196.10" x2="349.46" y2="198.60" stroke="#4a4a4a" stroke-width="0.9" />
<text x="347.26" y="200.50" font-size="8.5" text-anchor="end" fill="#000" stroke="#000" stroke-width="0.15" font-family='"Liberation Sans", sans-serif' transform="rotate(-60 347.26 200.50)" dy="5.5">Type.17.T.helper.cell</text>
<text x="349.16" y="32.70" font-size="8.5" text-anchor="middle" font-weight="normal" fill="#111" font-family='"Liberation Sans", sans-serif' stroke="#111" stroke-width="0.2">ns</text>
<line x1="359.82" y1="80.97" x2="359.82" y2="91.38" stroke="#2b7ae8" stroke-width="1.0" />
<line x1="359.82" y1="102.26" x2="359.82" y2="114.36" stroke="#2b7ae8" stroke-width="1.0" />
<rect x="357.97" y="91.38" width="3.70" height="10.89" fill="#fff" stroke="#2b7ae8" stroke-width="1.05" />
<line x1="357.97" y1="96.94" x2="361.67" y2="96.94" stroke="#2b7ae8" stroke-width="1.4" />
<circle cx="359.82" cy="119.69" r="1.4" fill="#2b7ae8"/>
<line x1="363.82" y1="79.28" x2="363.82" y2="90.65" stroke="#f5a433" stroke-width="1.0" />
<line x1="363.82" y1="101.05" x2="363.82" y2="111.94" stroke="#f5a433" stroke-width="1.0" />
<rect x="361.97" y="90.65" width="3.70" height="10.40" fill="#fff" stroke="#f5a433" stroke-width="1.05" />
<line x1="361.97" y1="95.01" x2="365.67" y2="95.01" stroke="#f5a433" stroke-width="1.4" />
<circle cx="363.82" cy="76.13" r="1.4" fill="#f5a433"/>
<circle cx="363.82" cy="107.10" r="1.4" fill="#f5a433"/>
<circle cx="363.82" cy="110.73" r="1.4" fill="#f5a433"/>
<line x1="367.82" y1="81.70" x2="367.82" y2="91.38" stroke="#ea2028" stroke-width="1.0" />
<line x1="367.82" y1="99.36" x2="367.82" y2="110.73" stroke="#ea2028" stroke-width="1.0" />
<rect x="365.97" y="91.38" width="3.70" height="7.98" fill="#fff" stroke="#ea2028" stroke-width="1.05" />
<line x1="365.97" y1="95.49" x2="369.67" y2="95.49" stroke="#ea2028" stroke-width="1.4" />
<line x1="363.82" y1="196.10" x2="363.82" y2="198.60" stroke="#4a4a4a" stroke-width="0.9" />
<text x="361.62" y="200.50" font-size="8.5" text-anchor="end" fill="#000" stroke="#000" stroke-width="0.15" font-family='"Liberation Sans", sans-serif' transform="rotate(-60 361.62 200.50)" dy="5.5">Type.2.T.helper.cell</text>
<circle cx="362.92" cy="28.90" r="1.1" fill="#111"/>
<circle cx="362.92" cy="32.70" r="1.1" fill="#111"/>
<text x="424.20" y="13.70" font-size="17.6" text-anchor="start" font-weight="bold" fill="#000" font-family='"Liberation Sans", sans-serif' textLength="10.6" lengthAdjust="spacingAndGlyphs">B</text>
<g>
<circle cx="525.9" cy="106.3" r="84.7" fill="#ff8080"/>
<circle cx="609.5" cy="106.3" r="84.7" fill="#80ff80"/>
<circle cx="567.5" cy="178.4" r="84.7" fill="#8080ff"/>
</g>
<defs><clipPath id="cr"><circle cx="525.9" cy="106.3" r="84.7"/></clipPath><clipPath id="cg"><circle cx="609.5" cy="106.3" r="84.7"/></clipPath><clipPath id="cb"><circle cx="567.5" cy="178.4" r="84.7"/></clipPath></defs>
<g clip-path="url(#cr)"><circle cx="609.5" cy="106.3" r="84.7" fill="#80bf40"/></g>
<g clip-path="url(#cr)"><circle cx="567.5" cy="178.4" r="84.7" fill="#8040c0"/></g>
<g clip-path="url(#cg)"><circle cx="567.5" cy="178.4" r="84.7" fill="#4080c0"/></g>
<g clip-path="url(#cr)"><g clip-path="url(#cg)"><circle cx="567.5" cy="178.4" r="84.7" fill="#40609f"/></g></g>
<circle cx="525.9" cy="106.3" r="84.7" fill="none" stroke="#000" stroke-width="1.3"/>
<circle cx="609.5" cy="106.3" r="84.7" fill="none" stroke="#000" stroke-width="1.3"/>
<circle cx="567.5" cy="178.4" r="84.7" fill="none" stroke="#000" stroke-width="1.3"/>
<text x="488.60" y="88.20" font-size="9.0" text-anchor="middle" font-weight="normal" fill="#111" font-family='"Liberation Serif", serif' stroke="#111" stroke-width="0.3" textLength="17.0" lengthAdjust="spacingAndGlyphs">5530</text>
<text x="646.60" y="88.40" font-size="9.0" text-anchor="middle" font-weight="normal" fill="#111" font-family='"Liberation Serif", serif' stroke="#111" stroke-width="0.3" textLength="17.0" lengthAdjust="spacingAndGlyphs">1003</text>
<text x="568.00" y="66.80" font-size="9.0" text-anchor="middle" font-weight="normal" fill="#111" font-family='"Liberation Serif", serif' stroke="#111" stroke-width="0.3" textLength="17.0" lengthAdjust="spacingAndGlyphs">2494</text>
<text x="567.20" y="134.20" font-size="9.0" text-anchor="middle" font-weight="normal" fill="#111" font-family='"Liberation Serif", serif' stroke="#111" stroke-width="0.3" textLength="12.8" lengthAdjust="spacingAndGlyphs">206</text>
<text x="509.30" y="167.40" font-size="9.0" text-anchor="middle" font-weight="normal" fill="#111" font-family='"Liberation Serif", serif' stroke="#111" stroke-width="0.3" textLength="17.0" lengthAdjust="spacingAndGlyphs">2897</text>
<text x="625.30" y="167.40" font-size="9.0" text-anchor="middle" font-weight="normal" fill="#111" font-family='"Liberation Serif", serif' stroke="#111" stroke-width="0.3" textLength="12.8" lengthAdjust="spacingAndGlyphs">975</text>
<text x="567.50" y="225.50" font-size="9.0" text-anchor="middle" font-weight="normal" fill="#111" font-family='"Liberation Serif", serif' stroke="#111" stroke-width="0.3" textLength="12.8" lengthAdjust="spacingAndGlyphs">943</text>
<text x="460.60" y="32.90" font-size="11.3" text-anchor="middle" font-weight="bold" fill="#000" font-family='"Liberation Sans", sans-serif' textLength="17.2" lengthAdjust="spacingAndGlyphs">A-B</text>
<text x="675.40" y="33.40" font-size="11.3" text-anchor="middle" font-weight="bold" fill="#000" font-family='"Liberation Sans", sans-serif' textLength="17.6" lengthAdjust="spacingAndGlyphs">A-C</text>
<text x="567.90" y="281.40" font-size="11.3" text-anchor="middle" font-weight="bold" fill="#000" font-family='"Liberation Sans", sans-serif' textLength="16.8" lengthAdjust="spacingAndGlyphs">B-C</text>
<text x="13.80" y="337.10" font-size="17.8" text-anchor="start" font-weight="bold" fill="#000" font-family='"Liberation Sans", sans-serif' textLength="11" lengthAdjust="spacingAndGlyphs">C</text>
<rect x="174.80" y="345.80" width="206.90" height="58.34" fill="#fff" stroke="#a9a9a9" stroke-width="0.8" />
<rect x="381.70" y="345.80" width="6.20" height="58.34" fill="#d9d9d9" stroke="#a9a9a9" stroke-width="0.8" />
<line x1="213.65" y1="345.80" x2="213.65" y2="404.14" stroke="#f2f2f2" stroke-width="0.5" />
<line x1="272.35" y1="345.80" x2="272.35" y2="404.14" stroke="#f2f2f2" stroke-width="0.5" />
<line x1="331.05" y1="345.80" x2="331.05" y2="404.14" stroke="#f2f2f2" stroke-width="0.5" />
<line x1="184.30" y1="345.80" x2="184.30" y2="404.14" stroke="#ebebeb" stroke-width="0.7" />
<line x1="243.00" y1="345.80" x2="243.00" y2="404.14" stroke="#ebebeb" stroke-width="0.7" />
<line x1="301.70" y1="345.80" x2="301.70" y2="404.14" stroke="#ebebeb" stroke-width="0.7" />
<line x1="360.40" y1="345.80" x2="360.40" y2="404.14" stroke="#ebebeb" stroke-width="0.7" />
<line x1="174.80" y1="349.23" x2="381.70" y2="349.23" stroke="#ebebeb" stroke-width="0.6" />
<line x1="174.80" y1="354.95" x2="381.70" y2="354.95" stroke="#ebebeb" stroke-width="0.6" />
<line x1="174.80" y1="360.67" x2="381.70" y2="360.67" stroke="#ebebeb" stroke-width="0.6" />
<line x1="174.80" y1="366.39" x2="381.70" y2="366.39" stroke="#ebebeb" stroke-width="0.6" />
<line x1="174.80" y1="372.11" x2="381.70" y2="372.11" stroke="#ebebeb" stroke-width="0.6" />
<line x1="174.80" y1="377.83" x2="381.70" y2="377.83" stroke="#ebebeb" stroke-width="0.6" />
<line x1="174.80" y1="383.55" x2="381.70" y2="383.55" stroke="#ebebeb" stroke-width="0.6" />
<line x1="174.80" y1="389.27" x2="381.70" y2="389.27" stroke="#ebebeb" stroke-width="0.6" />
<line x1="174.80" y1="394.99" x2="381.70" y2="394.99" stroke="#ebebeb" stroke-width="0.6" />
<line x1="174.80" y1="400.71" x2="381.70" y2="400.71" stroke="#ebebeb" stroke-width="0.6" />
<rect x="184.30" y="346.66" width="58.70" height="5.15" fill="#ff0000" stroke="none" stroke-width="1" />
<line x1="173.30" y1="349.23" x2="174.80" y2="349.23" stroke="#333" stroke-width="0.5" />
<text x="172.80" y="350.53" font-size="3.7" text-anchor="end" font-weight="normal" fill="#1a1a1a" font-family='"Liberation Sans", sans-serif' >antigen processing and presentation of endogenous peptide antigen</text>
<rect x="184.30" y="352.38" width="58.70" height="5.15" fill="#ff0000" stroke="none" stroke-width="1" />
<line x1="173.30" y1="354.95" x2="174.80" y2="354.95" stroke="#333" stroke-width="0.5" />
<text x="172.80" y="356.25" font-size="3.7" text-anchor="end" font-weight="normal" fill="#1a1a1a" font-family='"Liberation Sans", sans-serif' >antigen processing and presentation of endogenous peptide antigen via MHC class I</text>
<rect x="184.30" y="358.10" width="93.92" height="5.15" fill="#ff0000" stroke="none" stroke-width="1" />
<line x1="173.30" y1="360.67" x2="174.80" y2="360.67" stroke="#333" stroke-width="0.5" />
<text x="172.80" y="361.97" font-size="3.7" text-anchor="end" font-weight="normal" fill="#1a1a1a" font-family='"Liberation Sans", sans-serif' >antigen processing and presentation of exogenous peptide antigen via MHC class I, TAP−dependent</text>
<rect x="184.30" y="363.82" width="93.92" height="5.15" fill="#ff0000" stroke="none" stroke-width="1" />
<line x1="173.30" y1="366.39" x2="174.80" y2="366.39" stroke="#333" stroke-width="0.5" />
<text x="172.80" y="367.69" font-size="3.7" text-anchor="end" font-weight="normal" fill="#1a1a1a" font-family='"Liberation Sans", sans-serif' >antigen processing and presentation of exogenous peptide antigen via MHC class I</text>
<rect x="184.30" y="369.54" width="176.10" height="5.15" fill="#ff0000" stroke="none" stroke-width="1" />
<line x1="173.30" y1="372.11" x2="174.80" y2="372.11" stroke="#333" stroke-width="0.5" />
<text x="172.80" y="373.41" font-size="3.7" text-anchor="end" font-weight="normal" fill="#1a1a1a" font-family='"Liberation Sans", sans-serif' >regionalization</text>
<rect x="184.30" y="375.26" width="58.70" height="5.15" fill="#ff0000" stroke="none" stroke-width="1" />
<line x1="173.30" y1="377.83" x2="174.80" y2="377.83" stroke="#333" stroke-width="0.5" />
<text x="172.80" y="379.13" font-size="3.7" text-anchor="end" font-weight="normal" fill="#1a1a1a" font-family='"Liberation Sans", sans-serif' >antigen processing and presentation of endogenous antigen</text>
<rect x="184.30" y="380.98" width="93.92" height="5.15" fill="#ff0000" stroke="none" stroke-width="1" />
<line x1="173.30" y1="383.55" x2="174.80" y2="383.55" stroke="#333" stroke-width="0.5" />
<text x="172.80" y="384.85" font-size="3.7" text-anchor="end" font-weight="normal" fill="#1a1a1a" font-family='"Liberation Sans", sans-serif' >antigen processing and presentation of peptide antigen via MHC class I</text>
<rect x="184.30" y="386.70" width="187.84" height="5.15" fill="#ff0000" stroke="none" stroke-width="1" />
<line x1="173.30" y1="389.27" x2="174.80" y2="389.27" stroke="#333" stroke-width="0.5" />
<text x="172.80" y="390.57" font-size="3.7" text-anchor="end" font-weight="normal" fill="#1a1a1a" font-family='"Liberation Sans", sans-serif' >pattern specification process</text>
<rect x="184.30" y="392.42" width="176.10" height="5.15" fill="#ff0000" stroke="none" stroke-width="1" />
<line x1="173.30" y1="394.99" x2="174.80" y2="394.99" stroke="#333" stroke-width="0.5" />
<text x="172.80" y="396.29" font-size="3.7" text-anchor="end" font-weight="normal" fill="#1a1a1a" font-family='"Liberation Sans", sans-serif' >axonogenesis</text>
<rect x="184.30" y="398.14" width="152.62" height="5.15" fill="#ff0000" stroke="none" stroke-width="1" />
<line x1="173.30" y1="400.71" x2="174.80" y2="400.71" stroke="#333" stroke-width="0.5" />
<text x="172.80" y="402.01" font-size="3.7" text-anchor="end" font-weight="normal" fill="#1a1a1a" font-family='"Liberation Sans", sans-serif' >cilium assembly</text>
<text x="371.7" y="374.97" font-size="11" font-weight="bold" text-anchor="middle" fill="#111" font-family='"Liberation Sans", sans-serif' transform="rotate(90 371.7 374.97)" dy="4" textLength="13.4" lengthAdjust="spacingAndGlyphs">BP</text>
<text x="384.8" y="374.97" font-size="2.5" text-anchor="middle" fill="#555" font-family='"Liberation Sans", sans-serif' transform="rotate(90 384.8 374.97)" dy="0.9">BP</text>
<rect x="174.80" y="406.20" width="206.90" height="58.34" fill="#fff" stroke="#a9a9a9" stroke-width="0.8" />
<rect x="381.70" y="406.20" width="6.20" height="58.34" fill="#d9d9d9" stroke="#a9a9a9" stroke-width="0.8" />
<line x1="213.65" y1="406.20" x2="213.65" y2="464.54" stroke="#f2f2f2" stroke-width="0.5" />
<line x1="272.35" y1="406.20" x2="272.35" y2="464.54" stroke="#f2f2f2" stroke-width="0.5" />
<line x1="331.05" y1="406.20" x2="331.05" y2="464.54" stroke="#f2f2f2" stroke-width="0.5" />
<line x1="184.30" y1="406.20" x2="184.30" y2="464.54" stroke="#ebebeb" stroke-width="0.7" />
<line x1="243.00" y1="406.20" x2="243.00" y2="464.54" stroke="#ebebeb" stroke-width="0.7" />
<line x1="301.70" y1="406.20" x2="301.70" y2="464.54" stroke="#ebebeb" stroke-width="0.7" />
<line x1="360.40" y1="406.20" x2="360.40" y2="464.54" stroke="#ebebeb" stroke-width="0.7" />
<line x1="174.80" y1="409.63" x2="381.70" y2="409.63" stroke="#ebebeb" stroke-width="0.6" />
<line x1="174.80" y1="415.35" x2="381.70" y2="415.35" stroke="#ebebeb" stroke-width="0.6" />
<line x1="174.80" y1="421.07" x2="381.70" y2="421.07" stroke="#ebebeb" stroke-width="0.6" />
<line x1="174.80" y1="426.79" x2="381.70" y2="426.79" stroke="#ebebeb" stroke-width="0.6" />
<line x1="174.80" y1="432.51" x2="381.70" y2="432.51" stroke="#ebebeb" stroke-width="0.6" />
<line x1="174.80" y1="438.23" x2="381.70" y2="438.23" stroke="#ebebeb" stroke-width="0.6" />
<line x1="174.80" y1="443.95" x2="381.70" y2="443.95" stroke="#ebebeb" stroke-width="0.6" />
<line x1="174.80" y1="449.67" x2="381.70" y2="449.67" stroke="#ebebeb" stroke-width="0.6" />
<line x1="174.80" y1="455.39" x2="381.70" y2="455.39" stroke="#ebebeb" stroke-width="0.6" />
<line x1="174.80" y1="461.11" x2="381.70" y2="461.11" stroke="#ebebeb" stroke-width="0.6" />
<rect x="184.30" y="407.06" width="105.66" height="5.15" fill="#ff0000" stroke="none" stroke-width="1" />
<line x1="173.30" y1="409.63" x2="174.80" y2="409.63" stroke="#333" stroke-width="0.5" />
<text x="172.80" y="410.93" font-size="3.7" text-anchor="end" font-weight="normal" fill="#1a1a1a" font-family='"Liberation Sans", sans-serif' >recycling endosome membrane</text>
<rect x="184.30" y="412.78" width="117.40" height="5.15" fill="#ff0000" stroke="none" stroke-width="1" />
<line x1="173.30" y1="415.35" x2="174.80" y2="415.35" stroke="#333" stroke-width="0.5" />
<text x="172.80" y="416.65" font-size="3.7" text-anchor="end" font-weight="normal" fill="#1a1a1a" font-family='"Liberation Sans", sans-serif' >recycling endosome</text>
<rect x="184.30" y="418.50" width="70.44" height="5.15" fill="#ff0000" stroke="none" stroke-width="1" />
<line x1="173.30" y1="421.07" x2="174.80" y2="421.07" stroke="#333" stroke-width="0.5" />
<text x="172.80" y="422.37" font-size="3.7" text-anchor="end" font-weight="normal" fill="#1a1a1a" font-family='"Liberation Sans", sans-serif' >phagocytic vesicle membrane</text>
<rect x="184.30" y="424.22" width="46.96" height="5.15" fill="#ff0000" stroke="none" stroke-width="1" />
<line x1="173.30" y1="426.79" x2="174.80" y2="426.79" stroke="#333" stroke-width="0.5" />
<text x="172.80" y="428.09" font-size="3.7" text-anchor="end" font-weight="normal" fill="#1a1a1a" font-family='"Liberation Sans", sans-serif' >MHC protein complex</text>
<rect x="184.30" y="429.94" width="46.96" height="5.15" fill="#ff0000" stroke="none" stroke-width="1" />
<line x1="173.30" y1="432.51" x2="174.80" y2="432.51" stroke="#333" stroke-width="0.5" />
<text x="172.80" y="433.81" font-size="3.7" text-anchor="end" font-weight="normal" fill="#1a1a1a" font-family='"Liberation Sans", sans-serif' >integral component of lumenal side of endoplasmic reticulum membrane</text>
<rect x="184.30" y="435.66" width="46.96" height="5.15" fill="#ff0000" stroke="none" stroke-width="1" />
<line x1="173.30" y1="438.23" x2="174.80" y2="438.23" stroke="#333" stroke-width="0.5" />
<text x="172.80" y="439.53" font-size="3.7" text-anchor="end" font-weight="normal" fill="#1a1a1a" font-family='"Liberation Sans", sans-serif' >lumenal side of endoplasmic reticulum membrane</text>
<rect x="184.30" y="441.38" width="46.96" height="5.15" fill="#ff0000" stroke="none" stroke-width="1" />
<line x1="173.30" y1="443.95" x2="174.80" y2="443.95" stroke="#333" stroke-width="0.5" />
<text x="172.80" y="445.25" font-size="3.7" text-anchor="end" font-weight="normal" fill="#1a1a1a" font-family='"Liberation Sans", sans-serif' >lumenal side of membrane</text>
<rect x="184.30" y="447.10" width="82.18" height="5.15" fill="#fd0008" stroke="none" stroke-width="1" />
<line x1="173.30" y1="449.67" x2="174.80" y2="449.67" stroke="#333" stroke-width="0.5" />
<text x="172.80" y="450.97" font-size="3.7" text-anchor="end" font-weight="normal" fill="#1a1a1a" font-family='"Liberation Sans", sans-serif' >early endosome membrane</text>
<rect x="184.30" y="452.82" width="82.18" height="5.15" fill="#fd0008" stroke="none" stroke-width="1" />
<line x1="173.30" y1="455.39" x2="174.80" y2="455.39" stroke="#333" stroke-width="0.5" />
<text x="172.80" y="456.69" font-size="3.7" text-anchor="end" font-weight="normal" fill="#1a1a1a" font-family='"Liberation Sans", sans-serif' >endocytic vesicle membrane</text>
<rect x="184.30" y="458.54" width="58.70" height="5.15" fill="#f8001f" stroke="none" stroke-width="1" />
<line x1="173.30" y1="461.11" x2="174.80" y2="461.11" stroke="#333" stroke-width="0.5" />
<text x="172.80" y="462.41" font-size="3.7" text-anchor="end" font-weight="normal" fill="#1a1a1a" font-family='"Liberation Sans", sans-serif' >COPII−coated ER to Golgi transport vesicle</text>
<text x="371.7" y="435.37" font-size="11" font-weight="bold" text-anchor="middle" fill="#111" font-family='"Liberation Sans", sans-serif' transform="rotate(90 371.7 435.37)" dy="4" textLength="12.4" lengthAdjust="spacingAndGlyphs">CC</text>
<text x="384.8" y="435.37" font-size="2.5" text-anchor="middle" fill="#555" font-family='"Liberation Sans", sans-serif' transform="rotate(90 384.8 435.37)" dy="0.9">CC</text>
<rect x="174.80" y="466.80" width="206.90" height="58.34" fill="#fff" stroke="#a9a9a9" stroke-width="0.8" />
<rect x="381.70" y="466.80" width="6.20" height="58.34" fill="#d9d9d9" stroke="#a9a9a9" stroke-width="0.8" />
<line x1="213.65" y1="466.80" x2="213.65" y2="525.14" stroke="#f2f2f2" stroke-width="0.5" />
<line x1="272.35" y1="466.80" x2="272.35" y2="525.14" stroke="#f2f2f2" stroke-width="0.5" />
<line x1="331.05" y1="466.80" x2="331.05" y2="525.14" stroke="#f2f2f2" stroke-width="0.5" />
<line x1="184.30" y1="466.80" x2="184.30" y2="525.14" stroke="#ebebeb" stroke-width="0.7" />
<line x1="243.00" y1="466.80" x2="243.00" y2="525.14" stroke="#ebebeb" stroke-width="0.7" />
<line x1="301.70" y1="466.80" x2="301.70" y2="525.14" stroke="#ebebeb" stroke-width="0.7" />
<line x1="360.40" y1="466.80" x2="360.40" y2="525.14" stroke="#ebebeb" stroke-width="0.7" />
<line x1="174.80" y1="470.23" x2="381.70" y2="470.23" stroke="#ebebeb" stroke-width="0.6" />
<line x1="174.80" y1="475.95" x2="381.70" y2="475.95" stroke="#ebebeb" stroke-width="0.6" />
<line x1="174.80" y1="481.67" x2="381.70" y2="481.67" stroke="#ebebeb" stroke-width="0.6" />
<line x1="174.80" y1="487.39" x2="381.70" y2="487.39" stroke="#ebebeb" stroke-width="0.6" />
<line x1="174.80" y1="493.11" x2="381.70" y2="493.11" stroke="#ebebeb" stroke-width="0.6" />
<line x1="174.80" y1="498.83" x2="381.70" y2="498.83" stroke="#ebebeb" stroke-width="0.6" />
<line x1="174.80" y1="504.55" x2="381.70" y2="504.55" stroke="#ebebeb" stroke-width="0.6" />
<line x1="174.80" y1="510.27" x2="381.70" y2="510.27" stroke="#ebebeb" stroke-width="0.6" />
<line x1="174.80" y1="515.99" x2="381.70" y2="515.99" stroke="#ebebeb" stroke-width="0.6" />
<line x1="174.80" y1="521.71" x2="381.70" y2="521.71" stroke="#ebebeb" stroke-width="0.6" />
<rect x="184.30" y="467.66" width="58.70" height="5.15" fill="#ff0000" stroke="none" stroke-width="1" />
<line x1="173.30" y1="470.23" x2="174.80" y2="470.23" stroke="#333" stroke-width="0.5" />
<text x="172.80" y="471.53" font-size="3.7" text-anchor="end" font-weight="normal" fill="#1a1a1a" font-family='"Liberation Sans", sans-serif' >peptide antigen binding</text>
<rect x="184.30" y="473.38" width="35.22" height="5.15" fill="#0000ff" stroke="none" stroke-width="1" />
<line x1="173.30" y1="475.95" x2="174.80" y2="475.95" stroke="#333" stroke-width="0.5" />
<text x="172.80" y="477.25" font-size="3.7" text-anchor="end" font-weight="normal" fill="#1a1a1a" font-family='"Liberation Sans", sans-serif' >frizzled binding</text>
<rect x="184.30" y="479.10" width="23.48" height="5.15" fill="#0000ff" stroke="none" stroke-width="1" />
<line x1="173.30" y1="481.67" x2="174.80" y2="481.67" stroke="#333" stroke-width="0.5" />
<text x="172.80" y="482.97" font-size="3.7" text-anchor="end" font-weight="normal" fill="#1a1a1a" font-family='"Liberation Sans", sans-serif' >insulin−like growth factor I binding</text>
<rect x="184.30" y="484.82" width="23.48" height="5.15" fill="#0000ff" stroke="none" stroke-width="1" />
<line x1="173.30" y1="487.39" x2="174.80" y2="487.39" stroke="#333" stroke-width="0.5" />
<text x="172.80" y="488.69" font-size="3.7" text-anchor="end" font-weight="normal" fill="#1a1a1a" font-family='"Liberation Sans", sans-serif' >Wnt−activated receptor activity</text>
<rect x="184.30" y="490.54" width="23.48" height="5.15" fill="#0000ff" stroke="none" stroke-width="1" />
<line x1="173.30" y1="493.11" x2="174.80" y2="493.11" stroke="#333" stroke-width="0.5" />
<text x="172.80" y="494.41" font-size="3.7" text-anchor="end" font-weight="normal" fill="#1a1a1a" font-family='"Liberation Sans", sans-serif' >transmembrane receptor protein serine/threonine kinase activity</text>
<rect x="184.30" y="496.26" width="35.22" height="5.15" fill="#0000ff" stroke="none" stroke-width="1" />
<line x1="173.30" y1="498.83" x2="174.80" y2="498.83" stroke="#333" stroke-width="0.5" />
<text x="172.80" y="500.13" font-size="3.7" text-anchor="end" font-weight="normal" fill="#1a1a1a" font-family='"Liberation Sans", sans-serif' >histone acetyltransferase activity</text>
<rect x="184.30" y="501.98" width="23.48" height="5.15" fill="#0000ff" stroke="none" stroke-width="1" />
<line x1="173.30" y1="504.55" x2="174.80" y2="504.55" stroke="#333" stroke-width="0.5" />
<text x="172.80" y="505.85" font-size="3.7" text-anchor="end" font-weight="normal" fill="#1a1a1a" font-family='"Liberation Sans", sans-serif' >threonine−type endopeptidase activity</text>
<rect x="184.30" y="507.70" width="35.22" height="5.15" fill="#0000ff" stroke="none" stroke-width="1" />
<line x1="173.30" y1="510.27" x2="174.80" y2="510.27" stroke="#333" stroke-width="0.5" />
<text x="172.80" y="509.97" font-size="3.7" text-anchor="end" font-weight="normal" fill="#1a1a1a" font-family='"Liberation Sans", sans-serif' >peptide−serine−N−acetyltransferase</text>
<text x="172.80" y="513.57" font-size="3.7" text-anchor="end" font-weight="normal" fill="#1a1a1a" font-family='"Liberation Sans", sans-serif' >activity</text>
<rect x="184.30" y="513.42" width="23.48" height="5.15" fill="#0000ff" stroke="none" stroke-width="1" />
<line x1="173.30" y1="515.99" x2="174.80" y2="515.99" stroke="#333" stroke-width="0.5" />
<text x="172.80" y="517.29" font-size="3.7" text-anchor="end" font-weight="normal" fill="#1a1a1a" font-family='"Liberation Sans", sans-serif' >MHC class I protein binding</text>
<rect x="184.30" y="519.14" width="58.70" height="5.15" fill="#0000ff" stroke="none" stroke-width="1" />
<line x1="173.30" y1="521.71" x2="174.80" y2="521.71" stroke="#333" stroke-width="0.5" />
<text x="172.80" y="523.01" font-size="3.7" text-anchor="end" font-weight="normal" fill="#1a1a1a" font-family='"Liberation Sans", sans-serif' >antigen binding</text>
<text x="371.7" y="495.97" font-size="11" font-weight="bold" text-anchor="middle" fill="#111" font-family='"Liberation Sans", sans-serif' transform="rotate(90 371.7 495.97)" dy="4" textLength="13.5" lengthAdjust="spacingAndGlyphs">MF</text>
<text x="384.8" y="495.97" font-size="2.5" text-anchor="middle" fill="#555" font-family='"Liberation Sans", sans-serif' transform="rotate(90 384.8 495.97)" dy="0.9">MF</text>
<line x1="184.30" y1="525.50" x2="184.30" y2="527.00" stroke="#333" stroke-width="0.6" />
<text x="183.80" y="535.00" font-size="8.6" text-anchor="middle" font-weight="bold" fill="#111" font-family='"Liberation Sans", sans-serif' textLength="4.6" lengthAdjust="spacingAndGlyphs">0</text>
<line x1="243.00" y1="525.50" x2="243.00" y2="527.00" stroke="#333" stroke-width="0.6" />
<text x="242.50" y="535.00" font-size="8.6" text-anchor="middle" font-weight="bold" fill="#111" font-family='"Liberation Sans", sans-serif' textLength="4.6" lengthAdjust="spacingAndGlyphs">5</text>
<line x1="301.70" y1="525.50" x2="301.70" y2="527.00" stroke="#333" stroke-width="0.6" />
<text x="301.20" y="535.00" font-size="8.6" text-anchor="middle" font-weight="bold" fill="#111" font-family='"Liberation Sans", sans-serif' textLength="9.2" lengthAdjust="spacingAndGlyphs">10</text>
<line x1="360.40" y1="525.50" x2="360.40" y2="527.00" stroke="#333" stroke-width="0.6" />
<text x="359.90" y="535.00" font-size="8.6" text-anchor="middle" font-weight="bold" fill="#111" font-family='"Liberation Sans", sans-serif' textLength="9.2" lengthAdjust="spacingAndGlyphs">15</text>
<text x="391.80" y="411.90" font-size="11.5" text-anchor="start" font-weight="bold" fill="#111" font-family='"Liberation Sans", sans-serif' textLength="35.5" lengthAdjust="spacingAndGlyphs">q value</text>
<defs><linearGradient id="gC1" x1="0" y1="0" x2="0" y2="1"><stop offset="0" stop-color="#ff0000"/><stop offset="0.125" stop-color="#f40031"/><stop offset="0.25" stop-color="#e80050"/><stop offset="0.375" stop-color="#da006c"/><stop offset="0.5" stop-color="#ca0088"/><stop offset="0.625" stop-color="#b500a5"/><stop offset="0.75" stop-color="#9a00c3"/><stop offset="0.875" stop-color="#7300e0"/><stop offset="1" stop-color="#0000ff"/></linearGradient></defs>
<rect x="392.10" y="422.00" width="5.90" height="33.70" fill="url(#gC1)" stroke="none" stroke-width="1" />
<text x="401.70" y="427.80" font-size="6.8" text-anchor="start" font-weight="normal" fill="#111" font-family='"Liberation Sans", sans-serif' stroke="#111" stroke-width="0.15" textLength="8.5" lengthAdjust="spacingAndGlyphs">0.1</text>
<text x="401.70" y="436.80" font-size="6.8" text-anchor="start" font-weight="normal" fill="#111" font-family='"Liberation Sans", sans-serif' stroke="#111" stroke-width="0.15" textLength="8.5" lengthAdjust="spacingAndGlyphs">0.2</text>
<text x="401.70" y="446.40" font-size="6.8" text-anchor="start" font-weight="normal" fill="#111" font-family='"Liberation Sans", sans-serif' stroke="#111" stroke-width="0.15" textLength="8.5" lengthAdjust="spacingAndGlyphs">0.3</text>
<text x="401.70" y="455.50" font-size="6.8" text-anchor="start" font-weight="normal" fill="#111" font-family='"Liberation Sans", sans-serif' stroke="#111" stroke-width="0.15" textLength="8.5" lengthAdjust="spacingAndGlyphs">0.4</text>
<rect x="174.80" y="547.20" width="205.80" height="56.10" fill="#fff" stroke="#a9a9a9" stroke-width="0.8" />
<rect x="380.60" y="547.20" width="6.20" height="56.10" fill="#d9d9d9" stroke="#a9a9a9" stroke-width="0.8" />
<line x1="186.50" y1="547.20" x2="186.50" y2="603.30" stroke="#f2f2f2" stroke-width="0.5" />
<line x1="244.90" y1="547.20" x2="244.90" y2="603.30" stroke="#f2f2f2" stroke-width="0.5" />
<line x1="303.30" y1="547.20" x2="303.30" y2="603.30" stroke="#f2f2f2" stroke-width="0.5" />
<line x1="361.70" y1="547.20" x2="361.70" y2="603.30" stroke="#f2f2f2" stroke-width="0.5" />
<line x1="215.70" y1="547.20" x2="215.70" y2="603.30" stroke="#ebebeb" stroke-width="0.7" />
<line x1="274.10" y1="547.20" x2="274.10" y2="603.30" stroke="#ebebeb" stroke-width="0.7" />
<line x1="332.50" y1="547.20" x2="332.50" y2="603.30" stroke="#ebebeb" stroke-width="0.7" />
<line x1="174.80" y1="550.50" x2="380.60" y2="550.50" stroke="#ebebeb" stroke-width="0.6" />
<line x1="174.80" y1="556.00" x2="380.60" y2="556.00" stroke="#ebebeb" stroke-width="0.6" />
<line x1="174.80" y1="561.50" x2="380.60" y2="561.50" stroke="#ebebeb" stroke-width="0.6" />
<line x1="174.80" y1="567.00" x2="380.60" y2="567.00" stroke="#ebebeb" stroke-width="0.6" />
<line x1="174.80" y1="572.50" x2="380.60" y2="572.50" stroke="#ebebeb" stroke-width="0.6" />
<line x1="174.80" y1="578.00" x2="380.60" y2="578.00" stroke="#ebebeb" stroke-width="0.6" />
<line x1="174.80" y1="583.50" x2="380.60" y2="583.50" stroke="#ebebeb" stroke-width="0.6" />
<line x1="174.80" y1="589.00" x2="380.60" y2="589.00" stroke="#ebebeb" stroke-width="0.6" />
<line x1="174.80" y1="594.50" x2="380.60" y2="594.50" stroke="#ebebeb" stroke-width="0.6" />
<line x1="174.80" y1="600.00" x2="380.60" y2="600.00" stroke="#ebebeb" stroke-width="0.6" />
<ellipse cx="371.22" cy="550.50" rx="3.13" ry="3.81" fill="#ff0000"/>
<line x1="173.30" y1="550.50" x2="174.80" y2="550.50" stroke="#333" stroke-width="0.5" />
<text x="172.80" y="551.80" font-size="3.7" text-anchor="end" font-weight="normal" fill="#1a1a1a" font-family='"Liberation Sans", sans-serif' >pattern specification process</text>
<ellipse cx="357.85" cy="556.00" rx="3.05" ry="3.72" fill="#ff0000"/>
<line x1="173.30" y1="556.00" x2="174.80" y2="556.00" stroke="#333" stroke-width="0.5" />
<text x="172.80" y="557.30" font-size="3.7" text-anchor="end" font-weight="normal" fill="#1a1a1a" font-family='"Liberation Sans", sans-serif' >regionalization</text>
<ellipse cx="357.85" cy="561.50" rx="3.05" ry="3.72" fill="#ff0000"/>
<line x1="173.30" y1="561.50" x2="174.80" y2="561.50" stroke="#333" stroke-width="0.5" />
<text x="172.80" y="562.80" font-size="3.7" text-anchor="end" font-weight="normal" fill="#1a1a1a" font-family='"Liberation Sans", sans-serif' >axonogenesis</text>
<ellipse cx="331.11" cy="567.00" rx="2.89" ry="3.52" fill="#ff0000"/>
<line x1="173.30" y1="567.00" x2="174.80" y2="567.00" stroke="#333" stroke-width="0.5" />
<text x="172.80" y="568.30" font-size="3.7" text-anchor="end" font-weight="normal" fill="#1a1a1a" font-family='"Liberation Sans", sans-serif' >cilium assembly</text>
<ellipse cx="264.26" cy="572.50" rx="2.41" ry="2.94" fill="#ff0000"/>
<line x1="173.30" y1="572.50" x2="174.80" y2="572.50" stroke="#333" stroke-width="0.5" />
<text x="172.80" y="573.80" font-size="3.7" text-anchor="end" font-weight="normal" fill="#1a1a1a" font-family='"Liberation Sans", sans-serif' >antigen processing and presentation of exogenous peptide antigen via MHC class I, TAP−dependent</text>
<ellipse cx="264.26" cy="578.00" rx="2.41" ry="2.94" fill="#ff0000"/>
<line x1="173.30" y1="578.00" x2="174.80" y2="578.00" stroke="#333" stroke-width="0.5" />
<text x="172.80" y="579.30" font-size="3.7" text-anchor="end" font-weight="normal" fill="#1a1a1a" font-family='"Liberation Sans", sans-serif' >antigen processing and presentation of exogenous peptide antigen via MHC class I</text>
<ellipse cx="264.26" cy="583.50" rx="2.41" ry="2.94" fill="#ff0000"/>
<line x1="173.30" y1="583.50" x2="174.80" y2="583.50" stroke="#333" stroke-width="0.5" />
<text x="172.80" y="584.80" font-size="3.7" text-anchor="end" font-weight="normal" fill="#1a1a1a" font-family='"Liberation Sans", sans-serif' >antigen processing and presentation of peptide antigen via MHC class I</text>
<ellipse cx="224.15" cy="589.00" rx="2.02" ry="2.45" fill="#ff0000"/>
<line x1="173.30" y1="589.00" x2="174.80" y2="589.00" stroke="#333" stroke-width="0.5" />
<text x="172.80" y="590.30" font-size="3.7" text-anchor="end" font-weight="normal" fill="#1a1a1a" font-family='"Liberation Sans", sans-serif' >antigen processing and presentation of endogenous peptide antigen</text>
<ellipse cx="224.15" cy="594.50" rx="2.02" ry="2.45" fill="#ff0000"/>
<line x1="173.30" y1="594.50" x2="174.80" y2="594.50" stroke="#333" stroke-width="0.5" />
<text x="172.80" y="595.80" font-size="3.7" text-anchor="end" font-weight="normal" fill="#1a1a1a" font-family='"Liberation Sans", sans-serif' >antigen processing and presentation of endogenous peptide antigen via MHC class I</text>
<ellipse cx="224.15" cy="600.00" rx="2.02" ry="2.45" fill="#ff0000"/>
<line x1="173.30" y1="600.00" x2="174.80" y2="600.00" stroke="#333" stroke-width="0.5" />
<text x="172.80" y="601.30" font-size="3.7" text-anchor="end" font-weight="normal" fill="#1a1a1a" font-family='"Liberation Sans", sans-serif' >antigen processing and presentation of endogenous antigen</text>
<text x="371.0" y="575.25" font-size="10.7" font-weight="bold" text-anchor="middle" fill="#111" font-family='"Liberation Sans", sans-serif' transform="rotate(90 371.0 575.25)" dy="3.9" textLength="12.7" lengthAdjust="spacingAndGlyphs">BP</text>
<text x="383.70000000000005" y="575.25" font-size="2.5" text-anchor="middle" fill="#555" font-family='"Liberation Sans", sans-serif' transform="rotate(90 383.70000000000005 575.25)" dy="0.9">BP</text>
<rect x="174.80" y="605.90" width="205.80" height="56.10" fill="#fff" stroke="#a9a9a9" stroke-width="0.8" />
<rect x="380.60" y="605.90" width="6.20" height="56.10" fill="#d9d9d9" stroke="#a9a9a9" stroke-width="0.8" />
<line x1="186.50" y1="605.90" x2="186.50" y2="662.00" stroke="#f2f2f2" stroke-width="0.5" />
<line x1="244.90" y1="605.90" x2="244.90" y2="662.00" stroke="#f2f2f2" stroke-width="0.5" />
<line x1="303.30" y1="605.90" x2="303.30" y2="662.00" stroke="#f2f2f2" stroke-width="0.5" />
<line x1="361.70" y1="605.90" x2="361.70" y2="662.00" stroke="#f2f2f2" stroke-width="0.5" />
<line x1="215.70" y1="605.90" x2="215.70" y2="662.00" stroke="#ebebeb" stroke-width="0.7" />
<line x1="274.10" y1="605.90" x2="274.10" y2="662.00" stroke="#ebebeb" stroke-width="0.7" />
<line x1="332.50" y1="605.90" x2="332.50" y2="662.00" stroke="#ebebeb" stroke-width="0.7" />
<line x1="174.80" y1="609.20" x2="380.60" y2="609.20" stroke="#ebebeb" stroke-width="0.6" />
<line x1="174.80" y1="614.70" x2="380.60" y2="614.70" stroke="#ebebeb" stroke-width="0.6" />
<line x1="174.80" y1="620.20" x2="380.60" y2="620.20" stroke="#ebebeb" stroke-width="0.6" />
<line x1="174.80" y1="625.70" x2="380.60" y2="625.70" stroke="#ebebeb" stroke-width="0.6" />
<line x1="174.80" y1="631.20" x2="380.60" y2="631.20" stroke="#ebebeb" stroke-width="0.6" />
<line x1="174.80" y1="636.70" x2="380.60" y2="636.70" stroke="#ebebeb" stroke-width="0.6" />
<line x1="174.80" y1="642.20" x2="380.60" y2="642.20" stroke="#ebebeb" stroke-width="0.6" />
<line x1="174.80" y1="647.70" x2="380.60" y2="647.70" stroke="#ebebeb" stroke-width="0.6" />
<line x1="174.80" y1="653.20" x2="380.60" y2="653.20" stroke="#ebebeb" stroke-width="0.6" />
<line x1="174.80" y1="658.70" x2="380.60" y2="658.70" stroke="#ebebeb" stroke-width="0.6" />
<ellipse cx="289.00" cy="609.20" rx="2.62" ry="3.19" fill="#ff0000"/>
<line x1="173.30" y1="609.20" x2="174.80" y2="609.20" stroke="#333" stroke-width="0.5" />
<text x="172.80" y="610.50" font-size="3.7" text-anchor="end" font-weight="normal" fill="#1a1a1a" font-family='"Liberation Sans", sans-serif' >recycling endosome</text>
<ellipse cx="275.82" cy="614.70" rx="2.52" ry="3.07" fill="#ff0000"/>
<line x1="173.30" y1="614.70" x2="174.80" y2="614.70" stroke="#333" stroke-width="0.5" />
<text x="172.80" y="616.00" font-size="3.7" text-anchor="end" font-weight="normal" fill="#1a1a1a" font-family='"Liberation Sans", sans-serif' >recycling endosome membrane</text>
<ellipse cx="249.46" cy="620.20" rx="2.30" ry="2.79" fill="#fd0008"/>
<line x1="173.30" y1="620.20" x2="174.80" y2="620.20" stroke="#333" stroke-width="0.5" />
<text x="172.80" y="621.50" font-size="3.7" text-anchor="end" font-weight="normal" fill="#1a1a1a" font-family='"Liberation Sans", sans-serif' >early endosome membrane</text>
<ellipse cx="249.46" cy="625.70" rx="2.30" ry="2.79" fill="#fd0008"/>
<line x1="173.30" y1="625.70" x2="174.80" y2="625.70" stroke="#333" stroke-width="0.5" />
<text x="172.80" y="627.00" font-size="3.7" text-anchor="end" font-weight="normal" fill="#1a1a1a" font-family='"Liberation Sans", sans-serif' >endocytic vesicle membrane</text>
<ellipse cx="236.28" cy="631.20" rx="2.16" ry="2.63" fill="#ff0000"/>
<line x1="173.30" y1="631.20" x2="174.80" y2="631.20" stroke="#333" stroke-width="0.5" />
<text x="172.80" y="632.50" font-size="3.7" text-anchor="end" font-weight="normal" fill="#1a1a1a" font-family='"Liberation Sans", sans-serif' >phagocytic vesicle membrane</text>
<ellipse cx="223.10" cy="636.70" rx="2.02" ry="2.45" fill="#f8001f"/>
<line x1="173.30" y1="636.70" x2="174.80" y2="636.70" stroke="#333" stroke-width="0.5" />
<text x="172.80" y="638.00" font-size="3.7" text-anchor="end" font-weight="normal" fill="#1a1a1a" font-family='"Liberation Sans", sans-serif' >COPII−coated ER to Golgi transport vesicle</text>
<ellipse cx="209.92" cy="642.20" rx="1.84" ry="2.24" fill="#ff0000"/>
<line x1="173.30" y1="642.20" x2="174.80" y2="642.20" stroke="#333" stroke-width="0.5" />
<text x="172.80" y="643.50" font-size="3.7" text-anchor="end" font-weight="normal" fill="#1a1a1a" font-family='"Liberation Sans", sans-serif' >MHC protein complex</text>
<ellipse cx="209.92" cy="647.70" rx="1.84" ry="2.24" fill="#ff0000"/>
<line x1="173.30" y1="647.70" x2="174.80" y2="647.70" stroke="#333" stroke-width="0.5" />
<text x="172.80" y="649.00" font-size="3.7" text-anchor="end" font-weight="normal" fill="#1a1a1a" font-family='"Liberation Sans", sans-serif' >integral component of lumenal side of endoplasmic reticulum membrane</text>
<ellipse cx="209.92" cy="653.20" rx="1.84" ry="2.24" fill="#ff0000"/>
<line x1="173.30" y1="653.20" x2="174.80" y2="653.20" stroke="#333" stroke-width="0.5" />
<text x="172.80" y="654.50" font-size="3.7" text-anchor="end" font-weight="normal" fill="#1a1a1a" font-family='"Liberation Sans", sans-serif' >lumenal side of endoplasmic reticulum membrane</text>
<ellipse cx="209.92" cy="658.70" rx="1.84" ry="2.24" fill="#ff0000"/>
<line x1="173.30" y1="658.70" x2="174.80" y2="658.70" stroke="#333" stroke-width="0.5" />
<text x="172.80" y="660.00" font-size="3.7" text-anchor="end" font-weight="normal" fill="#1a1a1a" font-family='"Liberation Sans", sans-serif' >lumenal side of membrane</text>
<text x="371.0" y="633.95" font-size="10.7" font-weight="bold" text-anchor="middle" fill="#111" font-family='"Liberation Sans", sans-serif' transform="rotate(90 371.0 633.95)" dy="3.9" textLength="11.6" lengthAdjust="spacingAndGlyphs">CC</text>
<text x="383.70000000000005" y="633.95" font-size="2.5" text-anchor="middle" fill="#555" font-family='"Liberation Sans", sans-serif' transform="rotate(90 383.70000000000005 633.95)" dy="0.9">CC</text>
<rect x="174.80" y="664.60" width="205.80" height="56.10" fill="#fff" stroke="#a9a9a9" stroke-width="0.8" />
<rect x="380.60" y="664.60" width="6.20" height="56.10" fill="#d9d9d9" stroke="#a9a9a9" stroke-width="0.8" />
<line x1="186.50" y1="664.60" x2="186.50" y2="720.70" stroke="#f2f2f2" stroke-width="0.5" />
<line x1="244.90" y1="664.60" x2="244.90" y2="720.70" stroke="#f2f2f2" stroke-width="0.5" />
<line x1="303.30" y1="664.60" x2="303.30" y2="720.70" stroke="#f2f2f2" stroke-width="0.5" />
<line x1="361.70" y1="664.60" x2="361.70" y2="720.70" stroke="#f2f2f2" stroke-width="0.5" />
<line x1="215.70" y1="664.60" x2="215.70" y2="720.70" stroke="#ebebeb" stroke-width="0.7" />
<line x1="274.10" y1="664.60" x2="274.10" y2="720.70" stroke="#ebebeb" stroke-width="0.7" />
<line x1="332.50" y1="664.60" x2="332.50" y2="720.70" stroke="#ebebeb" stroke-width="0.7" />
<line x1="174.80" y1="667.90" x2="380.60" y2="667.90" stroke="#ebebeb" stroke-width="0.6" />
<line x1="174.80" y1="673.40" x2="380.60" y2="673.40" stroke="#ebebeb" stroke-width="0.6" />
<line x1="174.80" y1="678.90" x2="380.60" y2="678.90" stroke="#ebebeb" stroke-width="0.6" />
<line x1="174.80" y1="684.40" x2="380.60" y2="684.40" stroke="#ebebeb" stroke-width="0.6" />
<line x1="174.80" y1="689.90" x2="380.60" y2="689.90" stroke="#ebebeb" stroke-width="0.6" />
<line x1="174.80" y1="695.40" x2="380.60" y2="695.40" stroke="#ebebeb" stroke-width="0.6" />
<line x1="174.80" y1="700.90" x2="380.60" y2="700.90" stroke="#ebebeb" stroke-width="0.6" />
<line x1="174.80" y1="706.40" x2="380.60" y2="706.40" stroke="#ebebeb" stroke-width="0.6" />
<line x1="174.80" y1="711.90" x2="380.60" y2="711.90" stroke="#ebebeb" stroke-width="0.6" />
<line x1="174.80" y1="717.40" x2="380.60" y2="717.40" stroke="#ebebeb" stroke-width="0.6" />
<ellipse cx="224.15" cy="667.90" rx="2.02" ry="2.45" fill="#ff0000"/>
<line x1="173.30" y1="667.90" x2="174.80" y2="667.90" stroke="#333" stroke-width="0.5" />
<text x="172.80" y="669.20" font-size="3.7" text-anchor="end" font-weight="normal" fill="#1a1a1a" font-family='"Liberation Sans", sans-serif' >peptide antigen binding</text>
<ellipse cx="224.15" cy="673.40" rx="2.02" ry="2.45" fill="#0000ff"/>
<line x1="173.30" y1="673.40" x2="174.80" y2="673.40" stroke="#333" stroke-width="0.5" />
<text x="172.80" y="674.70" font-size="3.7" text-anchor="end" font-weight="normal" fill="#1a1a1a" font-family='"Liberation Sans", sans-serif' >antigen binding</text>
<ellipse cx="197.29" cy="678.90" rx="1.61" ry="1.96" fill="#0000ff"/>
<line x1="173.30" y1="678.90" x2="174.80" y2="678.90" stroke="#333" stroke-width="0.5" />
<text x="172.80" y="680.20" font-size="3.7" text-anchor="end" font-weight="normal" fill="#1a1a1a" font-family='"Liberation Sans", sans-serif' >frizzled binding</text>
<ellipse cx="197.29" cy="684.40" rx="1.61" ry="1.96" fill="#0000ff"/>
<line x1="173.30" y1="684.40" x2="174.80" y2="684.40" stroke="#333" stroke-width="0.5" />
<text x="172.80" y="685.70" font-size="3.7" text-anchor="end" font-weight="normal" fill="#1a1a1a" font-family='"Liberation Sans", sans-serif' >histone acetyltransferase activity</text>
<ellipse cx="197.29" cy="689.90" rx="1.61" ry="1.96" fill="#0000ff"/>
<line x1="173.30" y1="689.90" x2="174.80" y2="689.90" stroke="#333" stroke-width="0.5" />
<text x="172.80" y="689.60" font-size="3.7" text-anchor="end" font-weight="normal" fill="#1a1a1a" font-family='"Liberation Sans", sans-serif' >peptide−serine−N−acetyltransferase</text>
<text x="172.80" y="693.20" font-size="3.7" text-anchor="end" font-weight="normal" fill="#1a1a1a" font-family='"Liberation Sans", sans-serif' >activity</text>
<ellipse cx="183.86" cy="695.40" rx="1.06" ry="1.29" fill="#0000ff"/>
<line x1="173.30" y1="695.40" x2="174.80" y2="695.40" stroke="#333" stroke-width="0.5" />
<text x="172.80" y="696.70" font-size="3.7" text-anchor="end" font-weight="normal" fill="#1a1a1a" font-family='"Liberation Sans", sans-serif' >insulin−like growth factor I binding</text>
<ellipse cx="183.86" cy="700.90" rx="1.06" ry="1.29" fill="#0000ff"/>
<line x1="173.30" y1="700.90" x2="174.80" y2="700.90" stroke="#333" stroke-width="0.5" />
<text x="172.80" y="702.20" font-size="3.7" text-anchor="end" font-weight="normal" fill="#1a1a1a" font-family='"Liberation Sans", sans-serif' >Wnt−activated receptor activity</text>
<ellipse cx="183.86" cy="706.40" rx="1.06" ry="1.29" fill="#0000ff"/>
<line x1="173.30" y1="706.40" x2="174.80" y2="706.40" stroke="#333" stroke-width="0.5" />
<text x="172.80" y="707.70" font-size="3.7" text-anchor="end" font-weight="normal" fill="#1a1a1a" font-family='"Liberation Sans", sans-serif' >transmembrane receptor protein serine/threonine kinase activity</text>
<ellipse cx="183.86" cy="711.90" rx="1.06" ry="1.29" fill="#0000ff"/>
<line x1="173.30" y1="711.90" x2="174.80" y2="711.90" stroke="#333" stroke-width="0.5" />
<text x="172.80" y="713.20" font-size="3.7" text-anchor="end" font-weight="normal" fill="#1a1a1a" font-family='"Liberation Sans", sans-serif' >threonine−type endopeptidase activity</text>
<ellipse cx="183.86" cy="717.40" rx="1.06" ry="1.29" fill="#0000ff"/>
<line x1="173.30" y1="717.40" x2="174.80" y2="717.40" stroke="#333" stroke-width="0.5" />
<text x="172.80" y="718.70" font-size="3.7" text-anchor="end" font-weight="normal" fill="#1a1a1a" font-family='"Liberation Sans", sans-serif' >MHC class I protein binding</text>
<text x="371.0" y="692.65" font-size="10.7" font-weight="bold" text-anchor="middle" fill="#111" font-family='"Liberation Sans", sans-serif' transform="rotate(90 371.0 692.65)" dy="3.9" textLength="14.1" lengthAdjust="spacingAndGlyphs">MF</text>
<text x="383.70000000000005" y="692.65" font-size="2.5" text-anchor="middle" fill="#555" font-family='"Liberation Sans", sans-serif' transform="rotate(90 383.70000000000005 692.65)" dy="0.9">MF</text>
<line x1="215.70" y1="721.00" x2="215.70" y2="722.50" stroke="#333" stroke-width="0.6" />
<text x="216.20" y="731.10" font-size="8.3" text-anchor="middle" font-weight="bold" fill="#111" font-family='"Liberation Sans", sans-serif' textLength="20" lengthAdjust="spacingAndGlyphs">0.025</text>
<line x1="274.10" y1="721.00" x2="274.10" y2="722.50" stroke="#333" stroke-width="0.6" />
<text x="274.60" y="731.10" font-size="8.3" text-anchor="middle" font-weight="bold" fill="#111" font-family='"Liberation Sans", sans-serif' textLength="20" lengthAdjust="spacingAndGlyphs">0.050</text>
<line x1="332.50" y1="721.00" x2="332.50" y2="722.50" stroke="#333" stroke-width="0.6" />
<text x="333.00" y="731.10" font-size="8.3" text-anchor="middle" font-weight="bold" fill="#111" font-family='"Liberation Sans", sans-serif' textLength="20" lengthAdjust="spacingAndGlyphs">0.075</text>
<text x="278.00" y="743.00" font-size="9.4" text-anchor="middle" font-weight="bold" fill="#111" font-family='"Liberation Sans", sans-serif' textLength="44.6" lengthAdjust="spacingAndGlyphs">Gene Ration</text>
<text x="391.80" y="587.40" font-size="11.5" text-anchor="start" font-weight="bold" fill="#111" font-family='"Liberation Sans", sans-serif' textLength="35.2" lengthAdjust="spacingAndGlyphs">q value</text>
<defs><linearGradient id="gC2" x1="0" y1="0" x2="0" y2="1"><stop offset="0" stop-color="#ff0000"/><stop offset="0.125" stop-color="#f40031"/><stop offset="0.25" stop-color="#e80050"/><stop offset="0.375" stop-color="#da006c"/><stop offset="0.5" stop-color="#ca0088"/><stop offset="0.625" stop-color="#b500a5"/><stop offset="0.75" stop-color="#9a00c3"/><stop offset="0.875" stop-color="#7300e0"/><stop offset="1" stop-color="#0000ff"/></linearGradient></defs>
<rect x="391.40" y="597.80" width="5.40" height="33.10" fill="url(#gC2)" stroke="none" stroke-width="1" />
<text x="400.50" y="602.80" font-size="6.8" text-anchor="start" font-weight="normal" fill="#111" font-family='"Liberation Sans", sans-serif' stroke="#111" stroke-width="0.15" textLength="8.9" lengthAdjust="spacingAndGlyphs">0.1</text>
<text x="400.50" y="612.40" font-size="6.8" text-anchor="start" font-weight="normal" fill="#111" font-family='"Liberation Sans", sans-serif' stroke="#111" stroke-width="0.15" textLength="8.9" lengthAdjust="spacingAndGlyphs">0.2</text>
<text x="400.50" y="621.80" font-size="6.8" text-anchor="start" font-weight="normal" fill="#111" font-family='"Liberation Sans", sans-serif' stroke="#111" stroke-width="0.15" textLength="8.9" lengthAdjust="spacingAndGlyphs">0.3</text>
<text x="400.50" y="631.00" font-size="6.8" text-anchor="start" font-weight="normal" fill="#111" font-family='"Liberation Sans", sans-serif' stroke="#111" stroke-width="0.15" textLength="8.9" lengthAdjust="spacingAndGlyphs">0.4</text>
<text x="390.00" y="642.00" font-size="7.2" text-anchor="start" font-weight="normal" fill="#111" font-family='"Liberation Sans", sans-serif' stroke="#111" stroke-width="0.2" textLength="18.6" lengthAdjust="spacingAndGlyphs">Count</text>
<ellipse cx="394.8" cy="649" rx="1.7" ry="1.95" fill="#111"/>
<text x="401.00" y="650.70" font-size="7.7" text-anchor="start" font-weight="normal" fill="#111" font-family='"Liberation Sans", sans-serif' stroke="#111" stroke-width="0.15" textLength="4.2" lengthAdjust="spacingAndGlyphs">4</text>
<ellipse cx="394.8" cy="656.6" rx="2.2" ry="2.53" fill="#111"/>
<text x="401.00" y="659.60" font-size="7.7" text-anchor="start" font-weight="normal" fill="#111" font-family='"Liberation Sans", sans-serif' stroke="#111" stroke-width="0.15" textLength="4.2" lengthAdjust="spacingAndGlyphs">8</text>
<ellipse cx="394.8" cy="663.8" rx="2.7" ry="3.10" fill="#111"/>
<text x="401.00" y="668.70" font-size="7.7" text-anchor="start" font-weight="normal" fill="#111" font-family='"Liberation Sans", sans-serif' stroke="#111" stroke-width="0.15" textLength="8.4" lengthAdjust="spacingAndGlyphs">12</text>
<ellipse cx="394.8" cy="672.2" rx="3.0" ry="3.45" fill="#111"/>
<text x="401.00" y="677.30" font-size="7.7" text-anchor="start" font-weight="normal" fill="#111" font-family='"Liberation Sans", sans-serif' stroke="#111" stroke-width="0.15" textLength="8.4" lengthAdjust="spacingAndGlyphs">16</text>
<text x="436.40" y="337.00" font-size="17.8" text-anchor="start" font-weight="bold" fill="#000" font-family='"Liberation Sans", sans-serif' textLength="12.3" lengthAdjust="spacingAndGlyphs">D</text>
<rect x="521.80" y="345.60" width="144.00" height="180.20" fill="#fff" stroke="#a9a9a9" stroke-width="0.8" />
<line x1="543.99" y1="345.60" x2="543.99" y2="525.80" stroke="#f2f2f2" stroke-width="0.5" />
<line x1="576.97" y1="345.60" x2="576.97" y2="525.80" stroke="#f2f2f2" stroke-width="0.5" />
<line x1="609.95" y1="345.60" x2="609.95" y2="525.80" stroke="#f2f2f2" stroke-width="0.5" />
<line x1="642.93" y1="345.60" x2="642.93" y2="525.80" stroke="#f2f2f2" stroke-width="0.5" />
<line x1="527.50" y1="345.60" x2="527.50" y2="525.80" stroke="#ebebeb" stroke-width="0.7" />
<line x1="560.48" y1="345.60" x2="560.48" y2="525.80" stroke="#ebebeb" stroke-width="0.7" />
<line x1="593.46" y1="345.60" x2="593.46" y2="525.80" stroke="#ebebeb" stroke-width="0.7" />
<line x1="626.44" y1="345.60" x2="626.44" y2="525.80" stroke="#ebebeb" stroke-width="0.7" />
<line x1="659.42" y1="345.60" x2="659.42" y2="525.80" stroke="#ebebeb" stroke-width="0.7" />
<line x1="521.80" y1="353.21" x2="665.80" y2="353.21" stroke="#ebebeb" stroke-width="0.6" />
<line x1="521.80" y1="365.90" x2="665.80" y2="365.90" stroke="#ebebeb" stroke-width="0.6" />
<line x1="521.80" y1="378.59" x2="665.80" y2="378.59" stroke="#ebebeb" stroke-width="0.6" />
<line x1="521.80" y1="391.28" x2="665.80" y2="391.28" stroke="#ebebeb" stroke-width="0.6" />
<line x1="521.80" y1="403.97" x2="665.80" y2="403.97" stroke="#ebebeb" stroke-width="0.6" />
<line x1="521.80" y1="416.66" x2="665.80" y2="416.66" stroke="#ebebeb" stroke-width="0.6" />
<line x1="521.80" y1="429.35" x2="665.80" y2="429.35" stroke="#ebebeb" stroke-width="0.6" />
<line x1="521.80" y1="442.04" x2="665.80" y2="442.04" stroke="#ebebeb" stroke-width="0.6" />
<line x1="521.80" y1="454.73" x2="665.80" y2="454.73" stroke="#ebebeb" stroke-width="0.6" />
<line x1="521.80" y1="467.42" x2="665.80" y2="467.42" stroke="#ebebeb" stroke-width="0.6" />
<line x1="521.80" y1="480.11" x2="665.80" y2="480.11" stroke="#ebebeb" stroke-width="0.6" />
<line x1="521.80" y1="492.80" x2="665.80" y2="492.80" stroke="#ebebeb" stroke-width="0.6" />
<line x1="521.80" y1="505.49" x2="665.80" y2="505.49" stroke="#ebebeb" stroke-width="0.6" />
<line x1="521.80" y1="518.18" x2="665.80" y2="518.18" stroke="#ebebeb" stroke-width="0.6" />
<rect x="527.50" y="347.50" width="65.96" height="11.42" fill="#ff0000" stroke="none" stroke-width="1" />
<line x1="520.30" y1="353.21" x2="521.80" y2="353.21" stroke="#333" stroke-width="0.5" />
<text x="518.80" y="354.91" font-size="4.7" text-anchor="end" font-weight="normal" fill="#383838" font-family='"Liberation Sans", sans-serif' >Allograft rejection</text>
<rect x="527.50" y="360.19" width="65.96" height="11.42" fill="#ff0000" stroke="none" stroke-width="1" />
<line x1="520.30" y1="365.90" x2="521.80" y2="365.90" stroke="#333" stroke-width="0.5" />
<text x="518.80" y="367.60" font-size="4.7" text-anchor="end" font-weight="normal" fill="#383838" font-family='"Liberation Sans", sans-serif' >Graft−versus−host disease</text>
<rect x="527.50" y="372.88" width="65.96" height="11.42" fill="#ff0000" stroke="none" stroke-width="1" />
<line x1="520.30" y1="378.59" x2="521.80" y2="378.59" stroke="#333" stroke-width="0.5" />
<text x="518.80" y="380.29" font-size="4.7" text-anchor="end" font-weight="normal" fill="#383838" font-family='"Liberation Sans", sans-serif' >Type I diabetes mellitus</text>
<rect x="527.50" y="385.57" width="82.45" height="11.42" fill="#ff0000" stroke="none" stroke-width="1" />
<line x1="520.30" y1="391.28" x2="521.80" y2="391.28" stroke="#333" stroke-width="0.5" />
<text x="518.80" y="392.98" font-size="4.7" text-anchor="end" font-weight="normal" fill="#383838" font-family='"Liberation Sans", sans-serif' >Antigen processing and presentation</text>
<rect x="527.50" y="398.26" width="65.96" height="11.42" fill="#e60054" stroke="none" stroke-width="1" />
<line x1="520.30" y1="403.97" x2="521.80" y2="403.97" stroke="#333" stroke-width="0.5" />
<text x="518.80" y="405.67" font-size="4.7" text-anchor="end" font-weight="normal" fill="#383838" font-family='"Liberation Sans", sans-serif' >Autoimmune thyroid disease</text>
<rect x="527.50" y="410.95" width="131.92" height="11.42" fill="#e60054" stroke="none" stroke-width="1" />
<line x1="520.30" y1="416.66" x2="521.80" y2="416.66" stroke="#333" stroke-width="0.5" />
<text x="518.80" y="418.36" font-size="4.7" text-anchor="end" font-weight="normal" fill="#383838" font-family='"Liberation Sans", sans-serif' >Endocytosis</text>
<rect x="527.50" y="423.64" width="98.94" height="11.42" fill="#e60054" stroke="none" stroke-width="1" />
<line x1="520.30" y1="429.35" x2="521.80" y2="429.35" stroke="#333" stroke-width="0.5" />
<text x="518.80" y="431.05" font-size="4.7" text-anchor="end" font-weight="normal" fill="#383838" font-family='"Liberation Sans", sans-serif' >Cell adhesion molecules</text>
<rect x="527.50" y="436.33" width="98.94" height="11.42" fill="#e60054" stroke="none" stroke-width="1" />
<line x1="520.30" y1="442.04" x2="521.80" y2="442.04" stroke="#333" stroke-width="0.5" />
<text x="518.80" y="443.74" font-size="4.7" text-anchor="end" font-weight="normal" fill="#383838" font-family='"Liberation Sans", sans-serif' >Phagosome</text>
<rect x="527.50" y="449.02" width="65.96" height="11.42" fill="#e60054" stroke="none" stroke-width="1" />
<line x1="520.30" y1="454.73" x2="521.80" y2="454.73" stroke="#333" stroke-width="0.5" />
<text x="518.80" y="456.43" font-size="4.7" text-anchor="end" font-weight="normal" fill="#383838" font-family='"Liberation Sans", sans-serif' >Viral myocarditis</text>
<rect x="527.50" y="461.71" width="65.96" height="11.42" fill="#e60054" stroke="none" stroke-width="1" />
<line x1="520.30" y1="467.42" x2="521.80" y2="467.42" stroke="#333" stroke-width="0.5" />
<text x="518.80" y="469.12" font-size="4.7" text-anchor="end" font-weight="normal" fill="#383838" font-family='"Liberation Sans", sans-serif' >Basal cell carcinoma</text>
<rect x="527.50" y="474.40" width="115.43" height="11.42" fill="#d9006d" stroke="none" stroke-width="1" />
<line x1="520.30" y1="480.11" x2="521.80" y2="480.11" stroke="#333" stroke-width="0.5" />
<text x="518.80" y="481.81" font-size="4.7" text-anchor="end" font-weight="normal" fill="#383838" font-family='"Liberation Sans", sans-serif' >Human cytomegalovirus infection</text>
<rect x="527.50" y="487.09" width="98.94" height="11.42" fill="#db006b" stroke="none" stroke-width="1" />
<line x1="520.30" y1="492.80" x2="521.80" y2="492.80" stroke="#333" stroke-width="0.5" />
<text x="518.80" y="494.50" font-size="4.7" text-anchor="end" font-weight="normal" fill="#383838" font-family='"Liberation Sans", sans-serif' >Wnt signaling pathway</text>
<rect x="527.50" y="499.78" width="98.94" height="11.42" fill="#9a00c3" stroke="none" stroke-width="1" />
<line x1="520.30" y1="505.49" x2="521.80" y2="505.49" stroke="#333" stroke-width="0.5" />
<text x="518.80" y="507.19" font-size="4.7" text-anchor="end" font-weight="normal" fill="#383838" font-family='"Liberation Sans", sans-serif' >Axon guidance</text>
<rect x="527.50" y="512.47" width="98.94" height="11.42" fill="#0000ff" stroke="none" stroke-width="1" />
<line x1="520.30" y1="518.18" x2="521.80" y2="518.18" stroke="#333" stroke-width="0.5" />
<text x="518.80" y="517.78" font-size="4.7" text-anchor="end" font-weight="normal" fill="#383838" font-family='"Liberation Sans", sans-serif' >Kaposi sarcoma−associated</text>
<text x="518.80" y="522.68" font-size="4.7" text-anchor="end" font-weight="normal" fill="#383838" font-family='"Liberation Sans", sans-serif' >herpesvirus infection</text>
<line x1="527.50" y1="525.80" x2="527.50" y2="527.30" stroke="#333" stroke-width="0.6" />
<text x="527.20" y="535.60" font-size="8.7" text-anchor="middle" font-weight="bold" fill="#111" font-family='"Liberation Sans", sans-serif' textLength="4.8" lengthAdjust="spacingAndGlyphs">0</text>
<line x1="560.48" y1="525.80" x2="560.48" y2="527.30" stroke="#333" stroke-width="0.6" />
<text x="560.18" y="535.60" font-size="8.7" text-anchor="middle" font-weight="bold" fill="#111" font-family='"Liberation Sans", sans-serif' textLength="4.8" lengthAdjust="spacingAndGlyphs">2</text>
<line x1="593.46" y1="525.80" x2="593.46" y2="527.30" stroke="#333" stroke-width="0.6" />
<text x="593.16" y="535.60" font-size="8.7" text-anchor="middle" font-weight="bold" fill="#111" font-family='"Liberation Sans", sans-serif' textLength="4.8" lengthAdjust="spacingAndGlyphs">4</text>
<line x1="626.44" y1="525.80" x2="626.44" y2="527.30" stroke="#333" stroke-width="0.6" />
<text x="626.14" y="535.60" font-size="8.7" text-anchor="middle" font-weight="bold" fill="#111" font-family='"Liberation Sans", sans-serif' textLength="4.8" lengthAdjust="spacingAndGlyphs">6</text>
<line x1="659.42" y1="525.80" x2="659.42" y2="527.30" stroke="#333" stroke-width="0.6" />
<text x="659.12" y="535.60" font-size="8.7" text-anchor="middle" font-weight="bold" fill="#111" font-family='"Liberation Sans", sans-serif' textLength="4.8" lengthAdjust="spacingAndGlyphs">8</text>
<text x="672.20" y="412.60" font-size="11.5" text-anchor="start" font-weight="bold" fill="#111" font-family='"Liberation Sans", sans-serif' textLength="34.6" lengthAdjust="spacingAndGlyphs">q value</text>
<defs><linearGradient id="gD1" x1="0" y1="0" x2="0" y2="1"><stop offset="0" stop-color="#ff0000"/><stop offset="0.125" stop-color="#f40031"/><stop offset="0.25" stop-color="#e80050"/><stop offset="0.375" stop-color="#da006c"/><stop offset="0.5" stop-color="#ca0088"/><stop offset="0.625" stop-color="#b500a5"/><stop offset="0.75" stop-color="#9a00c3"/><stop offset="0.875" stop-color="#7300e0"/><stop offset="1" stop-color="#0000ff"/></linearGradient></defs>
<rect x="672.40" y="422.00" width="6.70" height="33.60" fill="url(#gD1)" stroke="none" stroke-width="1" />
<text x="682.60" y="427.10" font-size="7" text-anchor="start" font-weight="normal" fill="#111" font-family='"Liberation Sans", sans-serif' stroke="#111" stroke-width="0.15" textLength="12.4" lengthAdjust="spacingAndGlyphs">0.02</text>
<text x="682.60" y="441.40" font-size="7" text-anchor="start" font-weight="normal" fill="#111" font-family='"Liberation Sans", sans-serif' stroke="#111" stroke-width="0.15" textLength="12.4" lengthAdjust="spacingAndGlyphs">0.03</text>
<text x="682.60" y="455.60" font-size="7" text-anchor="start" font-weight="normal" fill="#111" font-family='"Liberation Sans", sans-serif' stroke="#111" stroke-width="0.15" textLength="12.4" lengthAdjust="spacingAndGlyphs">0.04</text>
<rect x="521.10" y="546.50" width="143.70" height="175.10" fill="#fff" stroke="#a9a9a9" stroke-width="0.8" />
<line x1="545.34" y1="546.50" x2="545.34" y2="721.60" stroke="#f2f2f2" stroke-width="0.5" />
<line x1="587.61" y1="546.50" x2="587.61" y2="721.60" stroke="#f2f2f2" stroke-width="0.5" />
<line x1="629.88" y1="546.50" x2="629.88" y2="721.60" stroke="#f2f2f2" stroke-width="0.5" />
<line x1="524.20" y1="546.50" x2="524.20" y2="721.60" stroke="#ebebeb" stroke-width="0.7" />
<line x1="566.47" y1="546.50" x2="566.47" y2="721.60" stroke="#ebebeb" stroke-width="0.7" />
<line x1="608.74" y1="546.50" x2="608.74" y2="721.60" stroke="#ebebeb" stroke-width="0.7" />
<line x1="651.01" y1="546.50" x2="651.01" y2="721.60" stroke="#ebebeb" stroke-width="0.7" />
<line x1="521.10" y1="554.70" x2="664.80" y2="554.70" stroke="#ebebeb" stroke-width="0.6" />
<line x1="521.10" y1="566.93" x2="664.80" y2="566.93" stroke="#ebebeb" stroke-width="0.6" />
<line x1="521.10" y1="579.16" x2="664.80" y2="579.16" stroke="#ebebeb" stroke-width="0.6" />
<line x1="521.10" y1="591.39" x2="664.80" y2="591.39" stroke="#ebebeb" stroke-width="0.6" />
<line x1="521.10" y1="603.62" x2="664.80" y2="603.62" stroke="#ebebeb" stroke-width="0.6" />
<line x1="521.10" y1="615.85" x2="664.80" y2="615.85" stroke="#ebebeb" stroke-width="0.6" />
<line x1="521.10" y1="628.08" x2="664.80" y2="628.08" stroke="#ebebeb" stroke-width="0.6" />
<line x1="521.10" y1="640.31" x2="664.80" y2="640.31" stroke="#ebebeb" stroke-width="0.6" />
<line x1="521.10" y1="652.54" x2="664.80" y2="652.54" stroke="#ebebeb" stroke-width="0.6" />
<line x1="521.10" y1="664.77" x2="664.80" y2="664.77" stroke="#ebebeb" stroke-width="0.6" />
<line x1="521.10" y1="677.00" x2="664.80" y2="677.00" stroke="#ebebeb" stroke-width="0.6" />
<line x1="521.10" y1="689.23" x2="664.80" y2="689.23" stroke="#ebebeb" stroke-width="0.6" />
<line x1="521.10" y1="701.46" x2="664.80" y2="701.46" stroke="#ebebeb" stroke-width="0.6" />
<line x1="521.10" y1="713.69" x2="664.80" y2="713.69" stroke="#ebebeb" stroke-width="0.6" />
<circle cx="658.90" cy="554.70" r="3.50" fill="#e60054"/>
<line x1="519.60" y1="554.70" x2="521.10" y2="554.70" stroke="#333" stroke-width="0.5" />
<text x="518.10" y="556.40" font-size="4.7" text-anchor="end" font-weight="normal" fill="#383838" font-family='"Liberation Sans", sans-serif' >Endocytosis</text>
<circle cx="626.30" cy="566.93" r="3.08" fill="#d9006d"/>
<line x1="519.60" y1="566.93" x2="521.10" y2="566.93" stroke="#333" stroke-width="0.5" />
<text x="518.10" y="568.63" font-size="4.7" text-anchor="end" font-weight="normal" fill="#383838" font-family='"Liberation Sans", sans-serif' >Human cytomegalovirus infection</text>
<circle cx="593.30" cy="579.16" r="2.63" fill="#e60054"/>
<line x1="519.60" y1="579.16" x2="521.10" y2="579.16" stroke="#333" stroke-width="0.5" />
<text x="518.10" y="580.86" font-size="4.7" text-anchor="end" font-weight="normal" fill="#383838" font-family='"Liberation Sans", sans-serif' >Cell adhesion molecules</text>
<circle cx="593.30" cy="591.39" r="2.63" fill="#e60054"/>
<line x1="519.60" y1="591.39" x2="521.10" y2="591.39" stroke="#333" stroke-width="0.5" />
<text x="518.10" y="593.09" font-size="4.7" text-anchor="end" font-weight="normal" fill="#383838" font-family='"Liberation Sans", sans-serif' >Phagosome</text>
<circle cx="593.30" cy="603.62" r="2.63" fill="#db006b"/>
<line x1="519.60" y1="603.62" x2="521.10" y2="603.62" stroke="#333" stroke-width="0.5" />
<text x="518.10" y="605.32" font-size="4.7" text-anchor="end" font-weight="normal" fill="#383838" font-family='"Liberation Sans", sans-serif' >Wnt signaling pathway</text>
<circle cx="593.30" cy="615.85" r="2.63" fill="#9a00c3"/>
<line x1="519.60" y1="615.85" x2="521.10" y2="615.85" stroke="#333" stroke-width="0.5" />
<text x="518.10" y="617.55" font-size="4.7" text-anchor="end" font-weight="normal" fill="#383838" font-family='"Liberation Sans", sans-serif' >Axon guidance</text>
<circle cx="593.30" cy="628.08" r="2.63" fill="#0000ff"/>
<line x1="519.60" y1="628.08" x2="521.10" y2="628.08" stroke="#333" stroke-width="0.5" />
<text x="518.10" y="627.68" font-size="4.7" text-anchor="end" font-weight="normal" fill="#383838" font-family='"Liberation Sans", sans-serif' >Kaposi sarcoma−associated</text>
<text x="518.10" y="632.58" font-size="4.7" text-anchor="end" font-weight="normal" fill="#383838" font-family='"Liberation Sans", sans-serif' >herpesvirus infection</text>
<circle cx="560.30" cy="640.31" r="2.14" fill="#ff0000"/>
<line x1="519.60" y1="640.31" x2="521.10" y2="640.31" stroke="#333" stroke-width="0.5" />
<text x="518.10" y="642.01" font-size="4.7" text-anchor="end" font-weight="normal" fill="#383838" font-family='"Liberation Sans", sans-serif' >Antigen processing and presentation</text>
<circle cx="527.40" cy="652.54" r="1.60" fill="#ff0000"/>
<line x1="519.60" y1="652.54" x2="521.10" y2="652.54" stroke="#333" stroke-width="0.5" />
<text x="518.10" y="654.24" font-size="4.7" text-anchor="end" font-weight="normal" fill="#383838" font-family='"Liberation Sans", sans-serif' >Allograft rejection</text>
<circle cx="527.40" cy="664.77" r="1.60" fill="#ff0000"/>
<line x1="519.60" y1="664.77" x2="521.10" y2="664.77" stroke="#333" stroke-width="0.5" />
<text x="518.10" y="666.47" font-size="4.7" text-anchor="end" font-weight="normal" fill="#383838" font-family='"Liberation Sans", sans-serif' >Graft−versus−host disease</text>
<circle cx="527.40" cy="677.00" r="1.60" fill="#ff0000"/>
<line x1="519.60" y1="677.00" x2="521.10" y2="677.00" stroke="#333" stroke-width="0.5" />
<text x="518.10" y="678.70" font-size="4.7" text-anchor="end" font-weight="normal" fill="#383838" font-family='"Liberation Sans", sans-serif' >Type I diabetes mellitus</text>
<circle cx="527.40" cy="689.23" r="1.60" fill="#e60054"/>
<line x1="519.60" y1="689.23" x2="521.10" y2="689.23" stroke="#333" stroke-width="0.5" />
<text x="518.10" y="690.93" font-size="4.7" text-anchor="end" font-weight="normal" fill="#383838" font-family='"Liberation Sans", sans-serif' >Autoimmune thyroid disease</text>
<circle cx="527.40" cy="701.46" r="1.60" fill="#e60054"/>
<line x1="519.60" y1="701.46" x2="521.10" y2="701.46" stroke="#333" stroke-width="0.5" />
<text x="518.10" y="703.16" font-size="4.7" text-anchor="end" font-weight="normal" fill="#383838" font-family='"Liberation Sans", sans-serif' >Viral myocarditis</text>
<circle cx="527.40" cy="713.69" r="1.60" fill="#e60054"/>
<line x1="519.60" y1="713.69" x2="521.10" y2="713.69" stroke="#333" stroke-width="0.5" />
<text x="518.10" y="715.39" font-size="4.7" text-anchor="end" font-weight="normal" fill="#383838" font-family='"Liberation Sans", sans-serif' >Basal cell carcinoma</text>
<line x1="524.20" y1="721.60" x2="524.20" y2="723.10" stroke="#333" stroke-width="0.6" />
<text x="524.20" y="731.10" font-size="8.3" text-anchor="middle" font-weight="bold" fill="#111" font-family='"Liberation Sans", sans-serif' textLength="15.5" lengthAdjust="spacingAndGlyphs">0.06</text>
<line x1="566.47" y1="721.60" x2="566.47" y2="723.10" stroke="#333" stroke-width="0.6" />
<text x="566.47" y="731.10" font-size="8.3" text-anchor="middle" font-weight="bold" fill="#111" font-family='"Liberation Sans", sans-serif' textLength="15.5" lengthAdjust="spacingAndGlyphs">0.08</text>
<line x1="608.74" y1="721.60" x2="608.74" y2="723.10" stroke="#333" stroke-width="0.6" />
<text x="608.74" y="731.10" font-size="8.3" text-anchor="middle" font-weight="bold" fill="#111" font-family='"Liberation Sans", sans-serif' textLength="15.5" lengthAdjust="spacingAndGlyphs">0.10</text>
<line x1="651.01" y1="721.60" x2="651.01" y2="723.10" stroke="#333" stroke-width="0.6" />
<text x="651.01" y="731.10" font-size="8.3" text-anchor="middle" font-weight="bold" fill="#111" font-family='"Liberation Sans", sans-serif' textLength="15.5" lengthAdjust="spacingAndGlyphs">0.12</text>
<text x="589.00" y="743.00" font-size="9.4" text-anchor="middle" font-weight="bold" fill="#111" font-family='"Liberation Sans", sans-serif' textLength="44.2" lengthAdjust="spacingAndGlyphs">Gene Ration</text>
<text x="671.80" y="584.30" font-size="11.5" text-anchor="start" font-weight="bold" fill="#111" font-family='"Liberation Sans", sans-serif' textLength="35.2" lengthAdjust="spacingAndGlyphs">q value</text>
<defs><linearGradient id="gD2" x1="0" y1="0" x2="0" y2="1"><stop offset="0" stop-color="#ff0000"/><stop offset="0.125" stop-color="#f40031"/><stop offset="0.25" stop-color="#e80050"/><stop offset="0.375" stop-color="#da006c"/><stop offset="0.5" stop-color="#ca0088"/><stop offset="0.625" stop-color="#b500a5"/><stop offset="0.75" stop-color="#9a00c3"/><stop offset="0.875" stop-color="#7300e0"/><stop offset="1" stop-color="#0000ff"/></linearGradient></defs>
<rect x="672.30" y="593.90" width="6.70" height="34.10" fill="url(#gD2)" stroke="none" stroke-width="1" />
<text x="682.70" y="599.50" font-size="7" text-anchor="start" font-weight="normal" fill="#111" font-family='"Liberation Sans", sans-serif' stroke="#111" stroke-width="0.15" textLength="12.6" lengthAdjust="spacingAndGlyphs">0.02</text>
<text x="682.70" y="613.70" font-size="7" text-anchor="start" font-weight="normal" fill="#111" font-family='"Liberation Sans", sans-serif' stroke="#111" stroke-width="0.15" textLength="12.6" lengthAdjust="spacingAndGlyphs">0.03</text>
<text x="682.70" y="627.50" font-size="7" text-anchor="start" font-weight="normal" fill="#111" font-family='"Liberation Sans", sans-serif' stroke="#111" stroke-width="0.15" textLength="12.6" lengthAdjust="spacingAndGlyphs">0.04</text>
<text x="673.40" y="640.60" font-size="7.2" text-anchor="start" font-weight="bold" fill="#111" font-family='"Liberation Sans", sans-serif' textLength="18.6" lengthAdjust="spacingAndGlyphs">Count</text>
<circle cx="676.8" cy="646.2" r="1.1" fill="#111"/>
<text x="683.50" y="648.50" font-size="7.7" text-anchor="start" font-weight="normal" fill="#111" font-family='"Liberation Sans", sans-serif' stroke="#111" stroke-width="0.15" textLength="4.2" lengthAdjust="spacingAndGlyphs">4</text>
<circle cx="676.8" cy="652.7" r="2.1" fill="#111"/>
<text x="683.50" y="656.60" font-size="7.7" text-anchor="start" font-weight="normal" fill="#111" font-family='"Liberation Sans", sans-serif' stroke="#111" stroke-width="0.15" textLength="4.2" lengthAdjust="spacingAndGlyphs">5</text>
<circle cx="676.8" cy="660" r="2.7" fill="#111"/>
<text x="683.50" y="664.20" font-size="7.7" text-anchor="start" font-weight="normal" fill="#111" font-family='"Liberation Sans", sans-serif' stroke="#111" stroke-width="0.15" textLength="4.2" lengthAdjust="spacingAndGlyphs">6</text>
<circle cx="676.8" cy="667" r="3.2" fill="#111"/>
<text x="683.50" y="671.20" font-size="7.7" text-anchor="start" font-weight="normal" fill="#111" font-family='"Liberation Sans", sans-serif' stroke="#111" stroke-width="0.15" textLength="4.2" lengthAdjust="spacingAndGlyphs">7</text>
<circle cx="676.8" cy="675.9" r="3.5" fill="#111"/>
<text x="683.50" y="680.10" font-size="7.7" text-anchor="start" font-weight="normal" fill="#111" font-family='"Liberation Sans", sans-serif' stroke="#111" stroke-width="0.15" textLength="4.2" lengthAdjust="spacingAndGlyphs">8</text>
</svg></body></html>
